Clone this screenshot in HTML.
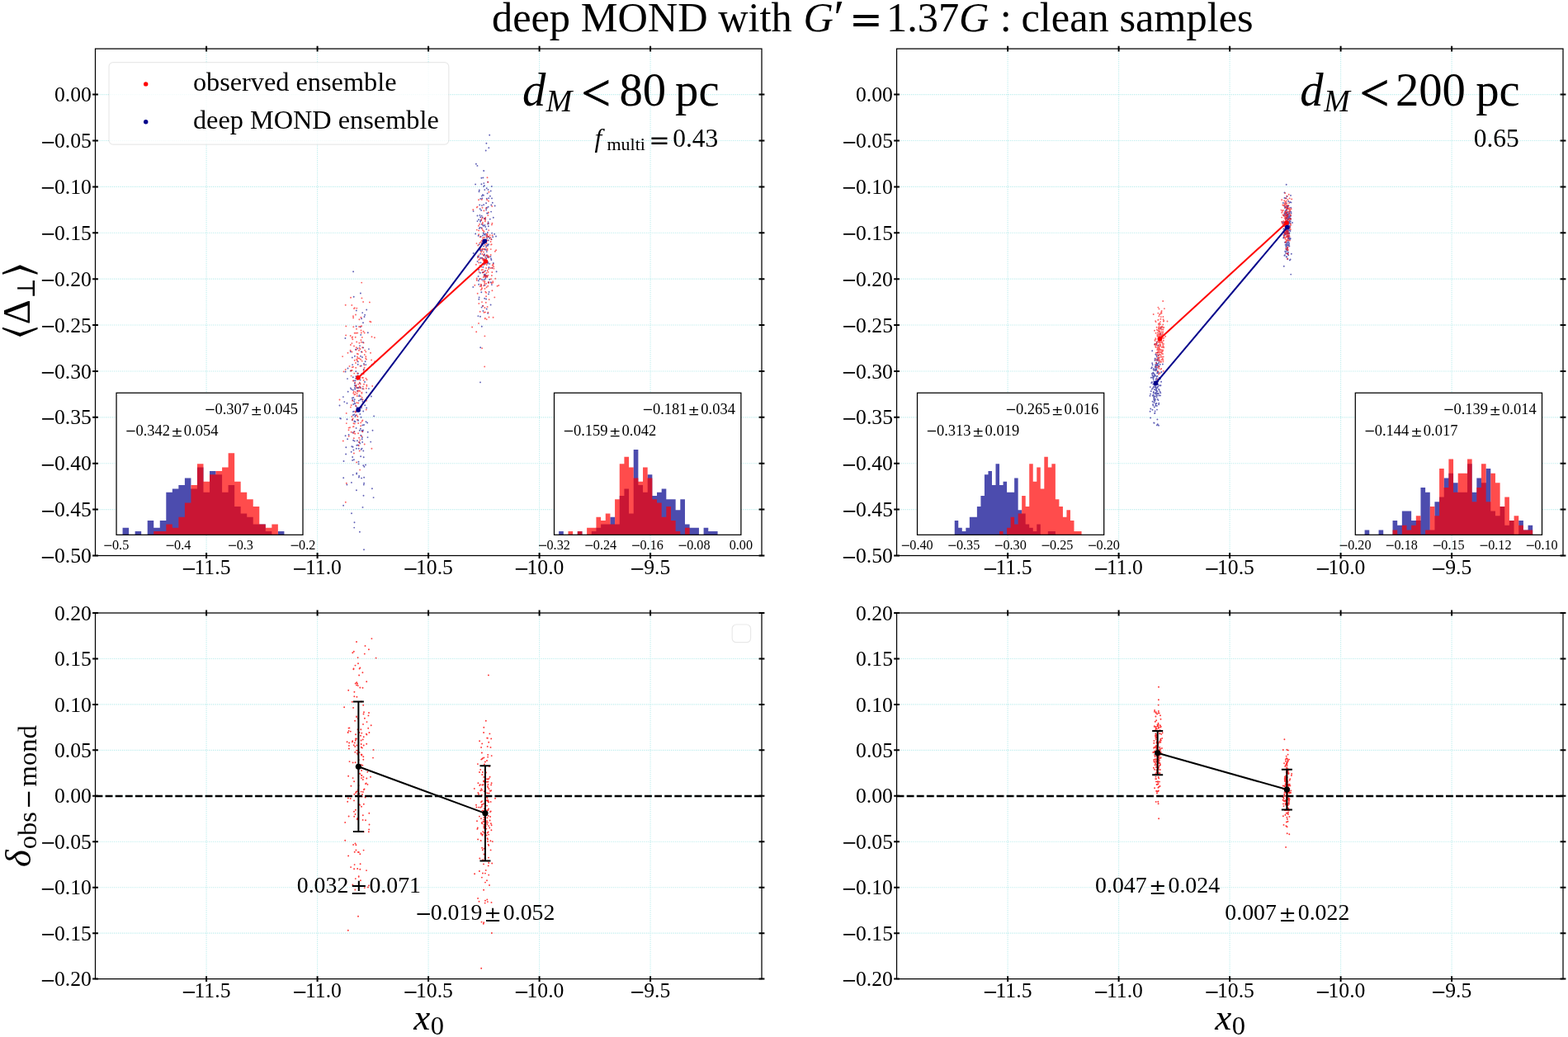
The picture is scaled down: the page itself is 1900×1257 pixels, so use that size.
<!DOCTYPE html>
<html lang="en"><head><meta charset="utf-8"><title>deep MOND clean samples</title>
<style>html,body{margin:0;padding:0;background:#fff}svg{display:block}text{fill:#000;font-family:'Liberation Serif',serif;white-space:pre}.r{font-family:'Liberation Serif',serif}.i{font-family:'Liberation Serif',serif;font-style:italic}.s{font-family:'DejaVu Sans',sans-serif}.m{font-family:'DejaVu Math TeX Gyre','DejaVu Sans',sans-serif}</style></head>
<body>
<svg width="1900" height="1257" viewBox="0 0 1900 1257">
<rect width="1900" height="1257" fill="#fff"/>
<path d="M250.1 59.1V673.5M384.6 59.1V673.5M519.1 59.1V673.5M653.6 59.1V673.5M788.1 59.1V673.5M115.5 114.62H923M115.5 170.51H923M115.5 226.4H923M115.5 282.28H923M115.5 338.17H923M115.5 394.06H923M115.5 449.95H923M115.5 505.84H923M115.5 561.72H923M115.5 617.61H923" stroke="#00bfbf" stroke-opacity="0.26" stroke-width="1.1" stroke-dasharray="1.25 1.25" fill="none"/>
<path d="M1221.1 59.1V673.5M1355.6 59.1V673.5M1490.1 59.1V673.5M1624.6 59.1V673.5M1759.1 59.1V673.5M1086.55 114.62H1894M1086.55 170.51H1894M1086.55 226.4H1894M1086.55 282.28H1894M1086.55 338.17H1894M1086.55 394.06H1894M1086.55 449.95H1894M1086.55 505.84H1894M1086.55 561.72H1894M1086.55 617.61H1894" stroke="#00bfbf" stroke-opacity="0.26" stroke-width="1.1" stroke-dasharray="1.25 1.25" fill="none"/>
<path d="M250.1 743V1186.6M384.6 743V1186.6M519.1 743V1186.6M653.6 743V1186.6M788.1 743V1186.6M115.5 798.45H923M115.5 853.9H923M115.5 909.35H923M115.5 964.8H923M115.5 1020.25H923M115.5 1075.7H923M115.5 1131.15H923" stroke="#00bfbf" stroke-opacity="0.26" stroke-width="1.1" stroke-dasharray="1.25 1.25" fill="none"/>
<path d="M1221.1 743V1186.6M1355.6 743V1186.6M1490.1 743V1186.6M1624.6 743V1186.6M1759.1 743V1186.6M1086.55 798.45H1894M1086.55 853.9H1894M1086.55 909.35H1894M1086.55 964.8H1894M1086.55 1020.25H1894M1086.55 1075.7H1894M1086.55 1131.15H1894" stroke="#00bfbf" stroke-opacity="0.26" stroke-width="1.1" stroke-dasharray="1.25 1.25" fill="none"/>
<path d="M439.9 414.9h.01M434.0 509.2h.01M441.1 578.7h.01M431.6 395.5h.01M450.9 592.2h.01M429.8 467.3h.01M429.5 633.2h.01M431.2 492.1h.01M437.7 544.7h.01M429.1 486.5h.01M440.3 546.5h.01M431.8 376.4h.01M435.9 464.6h.01M429.7 534.6h.01M445.8 403.3h.01M425.2 449.5h.01M425.7 547.8h.01M442.3 485.6h.01M433.8 459.3h.01M439.5 522.7h.01M445.1 512.5h.01M440.3 564.3h.01M428.2 490.0h.01M434.6 562.4h.01M420.4 587.5h.01M430.3 504.9h.01M429.2 502.4h.01M427.6 541.7h.01M427.9 503.2h.01M433.3 422.4h.01M436.2 537.5h.01M412.2 506.9h.01M443.5 511.3h.01M431.6 518.9h.01M432.6 493.6h.01M437.6 483.7h.01M452.6 603.1h.01M452.1 441.6h.01M429.4 510.7h.01M442.1 381.8h.01M436.6 484.6h.01M434.0 509.8h.01M427.4 524.4h.01M431.3 450.2h.01M438.1 453.1h.01M435.9 644.8h.01M453.1 504.4h.01M427.8 457.2h.01M434.5 559.8h.01M434.8 485.6h.01M443.3 442.1h.01M436.0 419.1h.01M438.7 532.3h.01M428.1 329.2h.01M437.7 443.5h.01M431.8 543.8h.01M438.2 484.1h.01M449.9 480.5h.01M440.8 447.8h.01M429.2 639.6h.01M430.1 489.5h.01M433.7 441.8h.01M438.0 494.4h.01M439.4 486.8h.01M426.8 482.5h.01M444.2 494.5h.01M434.9 578.6h.01M427.8 499.1h.01M420.5 488.7h.01M426.3 541.3h.01M419.3 542.3h.01M443.0 563.5h.01M435.1 577.0h.01M437.2 527.7h.01M424.9 470.5h.01M412.9 507.5h.01M432.7 470.0h.01M431.4 456.3h.01M430.9 503.4h.01M433.6 470.3h.01M432.5 494.1h.01M415.9 481.1h.01M435.1 480.3h.01M440.2 498.5h.01M432.1 574.6h.01M416.1 612.7h.01M433.0 473.7h.01M426.9 508.9h.01M436.9 355.5h.01M451.5 521.8h.01M421.7 474.7h.01M418.4 410.0h.01M440.0 521.5h.01M418.6 528.3h.01M441.0 666.2h.01M433.9 496.9h.01M428.7 359.8h.01M420.5 508.3h.01M430.6 461.4h.01M430.9 423.7h.01M436.7 396.4h.01M445.7 523.7h.01M427.1 557.9h.01M440.5 600.7h.01M441.1 585.8h.01M429.5 523.1h.01M428.9 557.2h.01M439.2 535.9h.01M416.5 559.0h.01M436.3 501.9h.01M422.6 526.9h.01M429.9 488.6h.01M434.0 539.5h.01M428.8 461.5h.01M430.0 464.8h.01M431.5 499.1h.01M444.0 475.8h.01M416.2 579.3h.01M446.9 423.1h.01M440.8 587.6h.01M419.1 550.5h.01M438.1 386.2h.01M430.2 471.7h.01M426.0 622.2h.01M434.5 470.3h.01M438.0 492.6h.01M437.1 553.3h.01M421.0 459.1h.01M427.7 575.6h.01M428.4 545.5h.01M437.2 405.9h.01M440.0 391.2h.01M431.9 594.2h.01M440.7 554.2h.01M435.0 494.0h.01M437.5 505.7h.01M427.8 472.7h.01M446.9 471.1h.01M442.0 463.0h.01M437.9 426.4h.01M421.5 446.5h.01M438.1 579.6h.01M440.1 421.4h.01M438.6 543.6h.01M425.9 584.9h.01M428.8 498.7h.01M450.8 442.0h.01M424.8 426.3h.01M425.8 471.9h.01M436.5 460.6h.01M445.5 530.1h.01M433.3 456.9h.01M436.7 469.4h.01M439.2 379.1h.01M418.6 450.5h.01M428.1 533.7h.01M429.5 510.5h.01M431.3 467.6h.01M427.2 554.0h.01M432.3 539.7h.01M449.2 535.6h.01M435.8 521.8h.01M444.2 375.5h.01M434.7 543.7h.01M435.5 479.1h.01M433.9 452.7h.01M442.6 438.2h.01M430.5 511.3h.01M432.9 534.3h.01M421.1 532.3h.01M439.4 471.2h.01M426.8 433.4h.01M439.0 530.1h.01M438.4 522.0h.01M435.3 498.3h.01M433.6 455.5h.01M428.3 481.9h.01M430.0 469.9h.01M429.9 431.8h.01M439.3 515.4h.01M437.0 431.8h.01M432.2 573.4h.01M441.0 441.0h.01M442.2 491.3h.01M411.5 491.5h.01M427.3 484.8h.01M444.6 448.5h.01M439.0 433.0h.01M431.1 458.7h.01M439.5 614.9h.01M441.5 384.0h.01M441.0 515.0h.01M427.1 442.1h.01M429.7 484.3h.01M438.9 484.4h.01M435.5 536.0h.01M436.9 519.8h.01M417.3 487.1h.01M441.4 565.8h.01M433.8 438.4h.01" stroke="#00008b" stroke-opacity="0.62" stroke-width="1.9" stroke-linecap="round" fill="none"/>
<path d="M428.4 525.0h.01M430.7 408.8h.01M428.2 476.5h.01M444.5 460.3h.01M428.0 517.3h.01M437.4 412.2h.01M429.0 523.5h.01M427.1 485.8h.01M432.2 503.3h.01M440.7 460.9h.01M426.8 445.1h.01M418.7 447.9h.01M437.0 480.3h.01M424.9 418.0h.01M434.8 540.3h.01M444.7 481.6h.01M438.7 426.7h.01M438.2 342.6h.01M415.1 432.1h.01M432.1 560.4h.01M438.2 528.7h.01M434.2 513.0h.01M435.0 536.0h.01M427.6 507.5h.01M443.8 470.7h.01M426.8 509.1h.01M431.2 445.8h.01M425.0 449.5h.01M437.2 512.4h.01M438.1 395.2h.01M431.8 423.8h.01M429.7 436.8h.01M432.8 480.0h.01M454.0 438.1h.01M415.8 534.5h.01M431.5 466.9h.01M439.9 468.6h.01M435.5 434.5h.01M431.3 492.0h.01M435.0 424.7h.01M430.2 525.7h.01M426.3 504.9h.01M430.1 463.8h.01M444.3 466.7h.01M440.6 448.7h.01M430.3 477.9h.01M434.2 465.8h.01M435.1 530.8h.01M440.0 457.9h.01M426.2 449.0h.01M443.2 434.5h.01M429.0 374.0h.01M438.7 481.9h.01M437.1 395.6h.01M425.0 360.7h.01M438.4 475.7h.01M443.3 426.4h.01M451.2 468.0h.01M438.7 437.6h.01M431.5 403.7h.01M432.8 428.7h.01M444.0 435.6h.01M449.0 427.7h.01M437.8 403.5h.01M435.0 469.7h.01M439.4 509.4h.01M438.7 510.5h.01M433.6 459.7h.01M428.8 531.2h.01M429.0 419.5h.01M425.7 491.3h.01M440.6 471.4h.01M435.7 468.4h.01M440.1 365.9h.01M421.5 427.8h.01M432.6 477.3h.01M434.1 495.5h.01M436.5 443.7h.01M428.3 396.2h.01M443.3 432.2h.01M428.0 383.3h.01M418.7 369.8h.01M424.9 493.6h.01M430.9 475.4h.01M438.4 476.7h.01M416.5 450.4h.01M433.2 452.5h.01M441.8 429.9h.01M441.7 538.5h.01M432.6 436.1h.01M443.4 458.6h.01M433.2 403.6h.01M436.9 470.5h.01M432.3 488.3h.01M433.9 474.0h.01M450.4 543.7h.01M439.2 421.3h.01M441.0 465.8h.01M432.3 373.6h.01M426.4 426.5h.01M431.2 468.3h.01M436.5 423.1h.01M428.5 513.2h.01M441.4 442.4h.01M418.8 608.7h.01M449.3 476.2h.01M433.0 459.0h.01M450.1 436.4h.01M449.4 390.2h.01M448.2 389.7h.01M433.9 429.2h.01M438.8 408.9h.01M425.6 523.7h.01M435.7 546.5h.01M433.8 434.3h.01M419.1 406.4h.01M427.3 411.3h.01M444.4 468.1h.01M424.6 424.7h.01M441.6 445.8h.01M434.1 525.3h.01M432.7 437.2h.01M422.5 521.2h.01M437.4 384.7h.01M439.2 523.3h.01M453.9 409.2h.01M432.3 497.8h.01M429.4 478.4h.01M438.9 457.8h.01M435.0 473.4h.01M429.7 373.3h.01M440.7 453.2h.01M435.7 463.7h.01M436.1 474.2h.01M443.8 496.6h.01M427.8 461.6h.01M441.6 403.5h.01M428.7 474.7h.01M437.5 400.5h.01M433.6 455.7h.01M432.9 432.5h.01M411.5 484.5h.01M432.2 470.1h.01M425.6 455.6h.01M432.9 508.7h.01M432.1 435.5h.01M437.9 414.7h.01M419.8 585.8h.01M432.2 414.5h.01M440.4 401.8h.01M426.5 409.2h.01M435.4 415.8h.01M447.9 366.4h.01M435.4 387.3h.01M438.3 492.5h.01M431.0 439.9h.01M422.6 518.6h.01M428.0 444.7h.01M438.4 361.4h.01M450.5 408.3h.01M424.0 518.2h.01M426.6 449.0h.01M432.0 398.8h.01M423.5 443.9h.01M433.3 505.0h.01M437.1 435.7h.01M435.1 395.9h.01M430.6 498.6h.01M419.3 395.4h.01M440.0 488.1h.01M428.1 385.3h.01M434.2 488.5h.01M429.7 403.8h.01M426.3 369.9h.01M428.9 549.5h.01M429.2 452.6h.01M419.8 513.1h.01M422.7 528.7h.01M435.5 421.7h.01M439.6 484.4h.01M432.6 459.7h.01M424.7 407.0h.01M431.8 421.3h.01M441.0 450.5h.01M428.6 517.1h.01M442.1 424.6h.01M430.7 499.8h.01M433.6 474.8h.01M426.4 416.1h.01M436.7 465.5h.01M444.0 485.8h.01M429.8 513.6h.01M436.1 569.6h.01M427.2 408.4h.01M436.2 533.4h.01M437.1 516.3h.01M440.6 415.6h.01M431.0 381.5h.01M419.7 500.9h.01M434.9 496.5h.01" stroke="#ff0000" stroke-opacity="0.62" stroke-width="1.9" stroke-linecap="round" fill="none"/>
<path d="M586.6 338.9h.01M582.4 303.7h.01M591.9 271.0h.01M585.4 376.9h.01M588.4 336.1h.01M587.5 284.7h.01M590.1 288.7h.01M591.1 271.5h.01M583.7 294.9h.01M589.4 173.8h.01M592.6 353.9h.01M591.9 291.4h.01M591.7 287.0h.01M576.1 223.4h.01M583.8 237.6h.01M586.6 309.7h.01M585.9 236.8h.01M583.6 276.2h.01M587.5 272.9h.01M601.6 329.2h.01M584.8 263.4h.01M585.6 330.1h.01M592.2 240.3h.01M578.5 268.1h.01M582.1 268.7h.01M580.8 276.7h.01M587.6 320.0h.01M582.0 383.8h.01M585.2 273.3h.01M579.9 340.3h.01M588.3 328.1h.01M595.6 290.1h.01M586.4 314.0h.01M584.4 294.0h.01M586.9 224.9h.01M586.1 207.0h.01M592.3 179.3h.01M596.1 282.6h.01M581.2 248.4h.01M588.9 310.1h.01M599.2 283.8h.01M591.0 297.7h.01M580.2 344.8h.01M594.6 369.5h.01M583.3 354.2h.01M583.4 223.3h.01M585.3 323.7h.01M582.2 421.3h.01M587.9 332.8h.01M588.7 316.7h.01M590.6 234.4h.01M589.1 290.9h.01M588.7 182.5h.01M588.9 290.7h.01M592.0 356.4h.01M589.2 254.4h.01M580.0 266.2h.01M580.1 327.0h.01M583.1 312.6h.01M586.1 226.1h.01M588.3 337.9h.01M573.7 307.0h.01M586.7 295.4h.01M589.8 252.3h.01M591.7 342.2h.01M585.4 215.4h.01M584.9 292.1h.01M589.7 228.3h.01M593.2 163.8h.01M591.8 274.3h.01M587.2 317.6h.01M589.1 246.3h.01M589.7 374.5h.01M583.8 395.8h.01M580.0 311.4h.01M581.1 338.3h.01M589.4 277.8h.01M591.1 220.6h.01M579.6 334.9h.01M593.2 288.7h.01M589.0 302.9h.01M586.5 292.0h.01M584.3 240.5h.01M586.9 317.5h.01M582.0 463.4h.01M595.4 315.0h.01M578.6 316.9h.01M587.0 308.2h.01M582.3 240.9h.01M591.2 379.8h.01M576.2 283.4h.01M582.5 318.4h.01M583.7 261.6h.01M594.7 231.5h.01M591.4 318.3h.01M590.6 310.4h.01M582.2 263.2h.01M595.1 256.6h.01M583.6 372.6h.01M588.5 283.5h.01M590.3 334.8h.01M586.1 298.4h.01M585.0 319.8h.01M587.5 345.7h.01M573.6 256.1h.01M593.3 319.8h.01M584.8 370.9h.01M583.9 249.1h.01M597.8 263.7h.01M589.8 251.6h.01M590.9 281.7h.01M592.3 324.2h.01M595.3 248.5h.01M580.6 360.4h.01M601.0 286.5h.01M590.1 258.5h.01M580.3 362.7h.01M588.3 275.0h.01M595.9 345.1h.01M583.1 345.6h.01M587.9 291.4h.01M583.7 271.8h.01M573.3 347.9h.01M583.4 215.7h.01M582.1 307.7h.01M582.7 286.7h.01M593.8 265.6h.01M586.3 207.1h.01M592.5 324.3h.01M591.3 312.0h.01M583.5 296.4h.01M584.1 338.9h.01M582.4 312.5h.01M593.9 237.8h.01M578.4 200.9h.01M579.7 285.8h.01M589.2 298.3h.01M584.8 236.2h.01M596.4 324.7h.01M581.7 275.7h.01M586.9 332.6h.01M587.6 302.0h.01M580.5 232.2h.01M586.6 283.8h.01M588.2 265.0h.01M586.2 309.6h.01M584.4 303.0h.01M597.8 319.0h.01M586.3 222.1h.01M583.1 254.9h.01M588.5 334.0h.01M592.0 296.3h.01M581.7 253.3h.01M580.8 230.4h.01M591.6 250.7h.01M586.5 315.7h.01M595.8 225.9h.01M596.8 245.8h.01M585.0 285.4h.01M584.7 330.1h.01M586.9 265.1h.01M588.0 332.7h.01M591.5 229.9h.01M587.3 318.0h.01M591.2 319.4h.01M589.1 362.5h.01M576.9 198.8h.01M580.6 296.4h.01M596.0 240.4h.01M589.5 285.9h.01M581.9 330.7h.01M599.7 249.5h.01M595.0 313.4h.01M579.4 383.1h.01M586.7 333.9h.01M589.2 313.0h.01M585.6 282.5h.01M582.2 267.1h.01M591.5 317.9h.01M586.1 248.3h.01M586.1 273.7h.01M597.2 287.2h.01M587.2 361.8h.01M581.4 260.9h.01M586.9 295.2h.01M591.0 258.5h.01M594.8 342.3h.01M589.8 305.1h.01M578.5 261.5h.01M581.4 302.9h.01M584.3 312.7h.01M583.1 266.6h.01M590.6 296.9h.01M582.5 312.7h.01M593.2 338.8h.01M594.4 310.9h.01M587.3 230.1h.01M579.0 310.7h.01M591.6 269.1h.01M589.8 240.7h.01" stroke="#00008b" stroke-opacity="0.62" stroke-width="1.9" stroke-linecap="round" fill="none"/>
<path d="M586.8 333.6h.01M586.1 346.2h.01M586.8 264.9h.01M584.5 251.8h.01M586.0 305.5h.01M592.7 363.1h.01M585.5 314.3h.01M595.9 272.4h.01M581.5 313.7h.01M596.4 270.7h.01M592.4 232.8h.01M589.7 321.0h.01M585.5 340.6h.01M581.9 322.7h.01M595.0 338.2h.01M587.1 342.1h.01M582.3 301.4h.01M590.6 301.8h.01M581.7 347.1h.01M590.4 285.2h.01M589.7 283.9h.01M599.3 360.4h.01M573.3 254.3h.01M591.9 257.4h.01M586.4 302.3h.01M589.1 354.7h.01M589.4 331.0h.01M589.2 334.0h.01M587.9 268.3h.01M589.7 387.1h.01M584.9 269.7h.01M581.9 300.8h.01M581.3 294.6h.01M590.8 309.5h.01M592.6 286.9h.01M590.2 242.2h.01M582.9 351.3h.01M596.2 250.1h.01M584.5 313.1h.01M583.7 291.7h.01M585.3 288.0h.01M590.6 334.4h.01M576.9 320.8h.01M581.6 299.9h.01M598.2 323.3h.01M583.7 304.5h.01M581.8 287.2h.01M582.3 337.9h.01M578.8 312.3h.01M588.8 252.4h.01M586.4 255.4h.01M591.1 311.4h.01M572.1 396.5h.01M592.4 341.9h.01M584.8 271.4h.01M597.7 320.3h.01M577.8 337.7h.01M589.8 309.3h.01M583.2 347.0h.01M582.5 293.4h.01M587.2 343.9h.01M587.9 296.7h.01M577.5 295.1h.01M584.8 330.6h.01M602.6 346.8h.01M585.4 370.8h.01M595.9 334.0h.01M580.2 314.9h.01M588.3 353.8h.01M600.3 337.8h.01M591.4 378.6h.01M583.0 305.5h.01M580.0 242.2h.01M590.5 215.2h.01M586.3 321.0h.01M586.7 314.4h.01M579.2 297.5h.01M595.1 296.6h.01M580.3 367.9h.01M587.5 349.9h.01M588.2 263.8h.01M594.5 287.9h.01M584.0 349.3h.01M578.5 250.6h.01M589.1 325.0h.01M586.4 329.7h.01M580.3 309.5h.01M584.6 314.1h.01M589.1 359.3h.01M592.0 243.7h.01M593.7 285.1h.01M594.8 302.1h.01M592.7 311.7h.01M584.1 264.5h.01M588.5 314.5h.01M586.8 315.6h.01M583.3 323.5h.01M577.8 251.4h.01M586.5 378.7h.01M592.2 279.1h.01M583.7 241.9h.01M592.3 310.6h.01M585.8 302.0h.01M589.7 287.3h.01M587.9 385.6h.01M594.7 308.9h.01M586.2 309.3h.01M604.3 345.9h.01M590.6 283.7h.01M581.7 377.7h.01M587.1 328.8h.01M581.1 271.8h.01M587.4 407.4h.01M585.0 326.9h.01M597.3 321.5h.01M595.2 290.3h.01M591.5 333.6h.01M586.3 280.2h.01M589.8 295.0h.01M587.4 340.9h.01M601.1 303.3h.01M591.5 329.9h.01M590.5 303.3h.01M584.1 422.1h.01M584.0 277.1h.01M582.8 344.7h.01M588.8 366.8h.01M595.6 296.3h.01M579.9 273.8h.01M582.8 302.3h.01M584.2 295.7h.01M596.6 285.3h.01M594.6 293.0h.01M591.3 261.1h.01M587.0 335.3h.01M582.9 346.2h.01M596.4 324.7h.01M583.5 327.3h.01M589.6 348.2h.01M591.2 346.8h.01M587.0 302.6h.01M597.2 341.1h.01M591.5 270.6h.01M577.8 278.6h.01M592.5 384.5h.01M580.0 391.9h.01M580.5 329.6h.01M589.2 334.8h.01M595.7 343.2h.01M590.7 328.0h.01M587.7 386.2h.01M588.0 334.4h.01M588.1 311.9h.01M587.4 373.0h.01M577.2 402.3h.01M594.4 325.0h.01M575.3 345.8h.01M586.4 280.9h.01M596.3 330.0h.01M592.1 326.0h.01M584.4 308.0h.01M597.3 342.5h.01M596.4 352.2h.01M583.8 350.2h.01M588.0 378.4h.01M588.2 335.4h.01M587.1 287.7h.01M588.1 266.4h.01M589.2 343.8h.01M596.7 321.5h.01M589.1 314.1h.01M598.4 325.6h.01M585.8 335.9h.01M587.2 444.4h.01M599.9 304.7h.01M577.8 337.4h.01M584.9 301.5h.01M585.3 315.3h.01M590.6 335.0h.01M591.3 220.7h.01M581.6 322.0h.01M590.1 316.7h.01M580.3 318.5h.01M578.7 355.7h.01M590.6 291.3h.01M597.6 384.7h.01M592.1 343.0h.01M584.9 279.0h.01M585.1 290.0h.01M589.1 299.9h.01M577.8 339.8h.01M586.6 309.2h.01M584.0 366.1h.01M589.5 295.1h.01M591.0 286.3h.01M580.1 279.4h.01M590.6 371.9h.01M583.3 266.7h.01M580.1 284.3h.01M590.1 336.1h.01" stroke="#ff0000" stroke-opacity="0.62" stroke-width="1.9" stroke-linecap="round" fill="none"/>
<path d="M434.1 457.77L588.5 316.93" stroke="#ff0000" stroke-width="2" fill="none"/>
<circle cx="434.1" cy="457.77" r="2.8" fill="#ff0000"/>
<circle cx="588.5" cy="316.93" r="2.8" fill="#ff0000"/>
<path d="M434.1 496.89L587.43 292.34" stroke="#00008b" stroke-width="2" fill="none"/>
<circle cx="434.1" cy="496.89" r="2.8" fill="#00008b"/>
<circle cx="587.43" cy="292.34" r="2.8" fill="#00008b"/>
<path d="M1401.6 456.8h.01M1402.7 451.5h.01M1400.4 491.0h.01M1404.5 444.5h.01M1401.7 414.6h.01M1398.7 485.5h.01M1399.1 501.0h.01M1395.9 452.9h.01M1402.0 496.6h.01M1400.9 447.6h.01M1401.0 476.9h.01M1403.1 477.1h.01M1398.6 481.8h.01M1406.5 467.2h.01M1402.1 477.5h.01M1403.3 468.4h.01M1398.8 456.0h.01M1400.5 476.1h.01M1393.8 469.1h.01M1398.6 466.8h.01M1393.5 479.8h.01M1402.8 514.2h.01M1398.4 487.8h.01M1400.8 472.9h.01M1400.2 489.1h.01M1401.3 473.4h.01M1398.1 462.1h.01M1403.7 440.6h.01M1401.9 491.9h.01M1405.7 441.8h.01M1397.9 475.0h.01M1404.4 433.9h.01M1404.7 472.8h.01M1399.3 467.1h.01M1405.1 467.2h.01M1394.1 477.6h.01M1401.1 472.3h.01M1398.1 482.1h.01M1396.6 442.3h.01M1398.6 512.8h.01M1405.6 458.8h.01M1402.4 461.4h.01M1402.0 445.7h.01M1398.1 452.4h.01M1399.9 434.6h.01M1399.0 462.6h.01M1398.9 464.6h.01M1399.8 480.4h.01M1399.5 434.8h.01M1401.4 447.7h.01M1395.1 446.4h.01M1401.8 432.2h.01M1394.3 495.5h.01M1404.3 439.0h.01M1403.1 443.0h.01M1396.2 425.3h.01M1402.9 469.0h.01M1403.6 462.4h.01M1400.2 455.4h.01M1399.9 445.7h.01M1404.6 457.9h.01M1402.2 474.4h.01M1394.8 457.8h.01M1404.3 488.7h.01M1396.5 496.8h.01M1407.4 451.0h.01M1399.3 485.6h.01M1403.0 476.7h.01M1400.9 475.6h.01M1401.4 489.0h.01M1398.8 493.5h.01M1398.3 483.9h.01M1400.3 429.4h.01M1403.9 430.8h.01M1404.3 479.4h.01M1394.1 506.5h.01M1399.6 498.4h.01M1400.9 461.4h.01M1402.4 508.4h.01M1396.7 479.5h.01M1401.9 441.2h.01M1400.7 464.0h.01M1402.6 450.9h.01M1402.5 455.9h.01M1397.3 491.6h.01M1407.1 462.7h.01M1399.6 466.5h.01M1402.0 479.6h.01M1402.0 436.9h.01M1398.5 464.4h.01M1400.3 449.2h.01M1402.3 470.0h.01M1401.5 479.2h.01M1408.9 441.5h.01M1401.8 462.8h.01M1400.6 470.3h.01M1403.4 450.7h.01M1395.2 464.3h.01M1402.4 427.6h.01M1394.8 474.2h.01M1399.7 444.6h.01M1398.8 472.1h.01M1397.4 465.8h.01M1400.5 443.7h.01M1402.6 442.0h.01M1397.8 465.9h.01M1399.4 469.2h.01M1399.6 485.9h.01M1395.6 463.7h.01M1406.8 397.6h.01M1398.3 484.3h.01M1399.4 500.8h.01M1398.3 448.7h.01M1397.4 457.7h.01M1401.6 441.3h.01M1401.4 470.8h.01M1399.5 463.7h.01M1397.0 470.4h.01M1401.8 515.4h.01M1400.3 477.5h.01M1406.0 479.4h.01M1395.9 471.7h.01M1401.6 481.4h.01M1398.2 512.4h.01M1402.1 465.7h.01M1400.2 469.3h.01M1396.7 479.5h.01M1400.7 459.5h.01M1401.2 448.6h.01M1404.1 490.2h.01M1399.8 447.9h.01M1398.4 481.1h.01M1401.7 416.7h.01M1396.6 457.4h.01M1398.8 483.6h.01M1399.8 466.5h.01M1401.2 447.8h.01M1399.2 417.2h.01M1396.0 463.5h.01M1401.9 443.4h.01M1397.7 478.6h.01M1393.6 498.7h.01M1401.1 430.4h.01M1398.8 455.5h.01M1399.1 453.9h.01M1403.3 466.3h.01M1398.4 465.8h.01M1403.5 436.4h.01M1402.2 452.3h.01M1399.5 476.6h.01M1397.7 476.3h.01M1406.4 404.7h.01M1399.8 466.7h.01M1403.1 418.9h.01M1396.2 440.2h.01M1400.2 444.0h.01M1400.3 491.8h.01M1397.3 451.8h.01M1401.1 439.4h.01M1397.7 447.0h.01M1405.8 459.4h.01M1399.9 472.5h.01M1397.8 468.9h.01M1397.9 457.2h.01M1396.4 455.0h.01M1397.4 452.8h.01M1397.6 459.8h.01M1399.8 464.0h.01M1404.0 515.7h.01M1400.0 483.9h.01M1402.5 474.4h.01M1399.3 455.1h.01M1397.3 458.2h.01M1400.0 442.1h.01M1403.9 477.2h.01M1401.4 473.1h.01M1399.4 436.8h.01M1402.0 440.9h.01M1402.2 435.5h.01M1402.7 483.9h.01M1397.7 456.3h.01M1404.4 459.1h.01M1397.7 447.9h.01M1402.5 442.5h.01M1404.1 471.7h.01M1401.0 442.7h.01M1405.6 474.7h.01M1403.5 485.1h.01M1397.1 490.2h.01M1395.8 445.2h.01M1396.6 486.7h.01M1397.1 451.9h.01M1401.6 474.3h.01M1400.5 468.2h.01M1402.4 461.5h.01M1398.2 480.2h.01M1403.8 451.9h.01M1406.3 476.3h.01M1401.8 459.1h.01M1395.8 463.2h.01" stroke="#00008b" stroke-opacity="0.62" stroke-width="1.9" stroke-linecap="round" fill="none"/>
<path d="M1406.3 418.4h.01M1407.7 428.4h.01M1409.2 418.9h.01M1404.2 405.0h.01M1403.6 387.6h.01M1405.2 415.4h.01M1405.7 406.5h.01M1409.8 389.5h.01M1403.6 426.1h.01M1406.0 419.3h.01M1405.5 404.5h.01M1408.7 426.0h.01M1404.4 446.8h.01M1407.3 396.2h.01M1404.9 402.5h.01M1405.6 426.6h.01M1407.7 407.3h.01M1400.1 389.1h.01M1405.0 405.1h.01M1403.1 413.4h.01M1402.6 422.0h.01M1405.7 415.5h.01M1406.0 404.6h.01M1409.2 365.0h.01M1409.4 436.2h.01M1402.8 403.5h.01M1404.2 418.5h.01M1406.3 432.8h.01M1405.5 417.6h.01M1409.9 420.1h.01M1402.4 429.6h.01M1407.2 399.8h.01M1402.2 424.0h.01M1408.2 415.4h.01M1408.7 420.9h.01M1406.0 404.2h.01M1405.7 419.8h.01M1399.3 412.1h.01M1403.8 392.8h.01M1403.9 407.7h.01M1397.7 381.0h.01M1403.8 409.9h.01M1405.2 401.8h.01M1407.5 424.5h.01M1401.3 416.8h.01M1407.1 438.4h.01M1405.1 422.5h.01M1408.8 434.5h.01M1410.3 389.0h.01M1410.0 416.9h.01M1405.6 452.2h.01M1403.7 434.8h.01M1409.1 410.0h.01M1405.3 402.2h.01M1404.7 401.3h.01M1404.6 393.5h.01M1405.5 405.9h.01M1407.2 406.4h.01M1408.7 405.8h.01M1403.4 436.8h.01M1407.4 414.9h.01M1400.1 420.1h.01M1404.6 407.5h.01M1409.0 399.5h.01M1404.0 426.4h.01M1404.2 399.9h.01M1402.9 426.7h.01M1403.9 397.4h.01M1403.3 379.6h.01M1399.1 417.8h.01M1404.6 393.9h.01M1402.4 427.3h.01M1400.1 418.0h.01M1406.0 426.4h.01M1403.2 387.9h.01M1410.2 421.2h.01M1399.6 412.9h.01M1406.4 386.8h.01M1410.3 397.0h.01M1408.4 409.3h.01M1400.6 390.1h.01M1405.6 426.7h.01M1405.5 437.9h.01M1407.0 427.5h.01M1405.2 405.4h.01M1407.5 379.8h.01M1409.8 412.8h.01M1404.6 405.5h.01M1407.4 413.5h.01M1400.7 421.0h.01M1403.7 423.2h.01M1403.6 418.5h.01M1409.4 438.4h.01M1409.7 449.8h.01M1401.2 440.2h.01M1406.0 407.4h.01M1403.4 445.1h.01M1407.6 376.9h.01M1404.5 374.4h.01M1406.8 384.1h.01M1406.0 392.9h.01M1408.4 395.8h.01M1399.9 416.7h.01M1408.9 416.9h.01M1404.7 391.8h.01M1401.8 399.6h.01M1407.4 399.5h.01M1404.5 398.3h.01M1410.4 409.6h.01M1402.6 400.4h.01M1404.6 424.5h.01M1407.8 424.2h.01M1403.3 431.0h.01M1404.4 383.2h.01M1410.8 405.7h.01M1405.8 402.4h.01M1404.7 422.5h.01M1403.5 414.8h.01M1403.4 422.4h.01M1404.5 399.8h.01M1404.4 420.9h.01M1405.2 381.3h.01M1403.8 398.1h.01M1407.6 436.0h.01M1401.6 396.8h.01M1399.0 400.8h.01M1406.1 417.7h.01M1405.4 409.0h.01M1402.3 406.0h.01M1400.7 436.3h.01M1407.8 402.5h.01M1407.3 411.9h.01M1403.6 407.4h.01M1405.4 397.7h.01M1406.1 424.0h.01M1400.8 444.7h.01M1406.4 397.2h.01M1408.6 414.9h.01M1407.1 378.8h.01M1407.6 409.7h.01M1407.8 432.5h.01M1405.5 429.8h.01M1404.0 411.6h.01M1406.8 396.5h.01M1407.1 395.9h.01M1402.7 459.8h.01M1404.0 453.5h.01M1403.0 424.2h.01M1409.2 393.4h.01M1403.4 372.6h.01M1403.1 420.9h.01M1402.6 449.8h.01M1406.5 447.6h.01M1409.0 429.0h.01M1402.5 433.9h.01M1404.5 443.8h.01M1409.0 396.8h.01M1403.6 410.8h.01M1400.9 427.8h.01M1404.8 429.4h.01M1404.0 401.8h.01M1407.7 426.8h.01M1406.6 430.4h.01M1409.3 424.5h.01M1405.7 380.6h.01M1401.2 418.5h.01M1405.2 414.0h.01M1409.4 384.0h.01M1400.2 410.1h.01M1405.9 398.3h.01M1409.7 432.4h.01M1402.6 406.0h.01M1407.7 420.8h.01M1400.5 411.1h.01M1407.3 378.3h.01M1406.6 404.6h.01M1406.1 390.1h.01M1406.5 439.0h.01M1406.2 404.5h.01M1409.6 387.3h.01M1404.4 396.0h.01M1409.4 402.4h.01M1400.6 403.8h.01M1412.2 407.7h.01M1408.9 404.5h.01M1409.5 399.5h.01M1407.0 379.3h.01M1404.1 433.2h.01M1404.0 427.5h.01M1410.9 374.1h.01M1407.2 446.9h.01M1406.9 427.3h.01M1402.5 407.7h.01M1406.2 407.9h.01M1405.1 436.5h.01M1405.3 406.3h.01M1404.5 397.0h.01M1401.6 415.0h.01M1414.5 389.5h.01M1407.5 396.8h.01" stroke="#ff0000" stroke-opacity="0.62" stroke-width="1.9" stroke-linecap="round" fill="none"/>
<path d="M1563.3 274.9h.01M1555.2 280.5h.01M1566.0 269.9h.01M1556.4 249.6h.01M1561.2 282.9h.01M1559.7 280.6h.01M1561.7 285.6h.01M1560.3 297.0h.01M1562.7 289.8h.01M1557.1 270.3h.01M1559.6 238.0h.01M1560.2 283.5h.01M1555.8 261.6h.01M1555.6 274.0h.01M1557.9 255.1h.01M1561.8 277.3h.01M1560.2 262.3h.01M1564.5 245.4h.01M1564.8 307.7h.01M1558.3 279.0h.01M1560.3 266.2h.01M1558.1 261.0h.01M1560.6 249.7h.01M1559.2 254.5h.01M1556.4 309.8h.01M1558.0 274.0h.01M1561.4 272.2h.01M1558.8 260.9h.01M1557.2 256.1h.01M1564.0 236.9h.01M1564.6 258.5h.01M1559.3 260.9h.01M1562.6 270.0h.01M1562.4 264.1h.01M1560.8 276.2h.01M1555.6 261.1h.01M1559.6 286.2h.01M1561.7 287.2h.01M1559.5 281.2h.01M1564.0 261.4h.01M1559.8 280.3h.01M1559.9 307.2h.01M1558.0 304.7h.01M1559.6 259.6h.01M1560.3 282.7h.01M1559.9 261.6h.01M1561.7 276.3h.01M1563.8 268.2h.01M1563.0 290.4h.01M1563.4 270.5h.01M1559.9 294.9h.01M1555.2 288.5h.01M1557.1 282.0h.01M1558.0 265.5h.01M1560.1 279.8h.01M1556.4 285.6h.01M1561.2 265.8h.01M1559.3 311.5h.01M1561.5 264.3h.01M1563.6 314.5h.01M1557.2 304.7h.01M1560.9 271.0h.01M1556.3 279.4h.01M1559.0 296.3h.01M1560.5 277.5h.01M1559.7 253.1h.01M1556.7 258.8h.01M1560.4 251.8h.01M1560.0 269.0h.01M1558.3 299.6h.01M1560.2 297.2h.01M1561.5 287.6h.01M1564.2 256.8h.01M1559.5 302.8h.01M1560.5 263.2h.01M1554.9 246.0h.01M1559.7 261.5h.01M1559.9 273.5h.01M1562.5 282.1h.01M1559.8 304.0h.01M1562.0 268.6h.01M1556.9 252.1h.01M1562.1 295.4h.01M1564.2 332.6h.01M1559.8 264.2h.01M1558.6 273.6h.01M1562.9 279.3h.01M1560.0 276.6h.01M1563.6 262.6h.01M1563.1 245.0h.01M1559.2 258.1h.01M1561.7 271.1h.01M1558.1 246.1h.01M1553.7 269.0h.01M1558.0 293.6h.01M1557.9 283.6h.01M1556.8 278.5h.01M1554.7 270.6h.01M1560.0 293.9h.01M1561.8 263.8h.01M1562.8 315.4h.01M1559.7 276.9h.01M1557.0 293.8h.01M1562.0 259.7h.01M1559.6 267.6h.01M1558.4 263.8h.01M1560.2 257.2h.01M1560.8 289.3h.01M1558.0 306.9h.01M1559.9 300.4h.01M1557.4 251.0h.01M1558.7 223.8h.01M1556.7 283.7h.01M1561.1 297.3h.01M1562.2 263.1h.01M1560.6 280.7h.01M1562.3 282.7h.01M1556.5 240.0h.01M1562.7 267.9h.01M1558.8 280.5h.01M1561.5 297.8h.01M1560.0 300.8h.01M1560.7 275.2h.01M1561.2 244.0h.01M1561.6 287.0h.01M1562.9 288.6h.01M1556.6 284.7h.01M1559.5 258.2h.01M1556.5 233.5h.01M1558.8 297.9h.01M1560.3 249.7h.01M1560.9 259.9h.01M1564.1 265.5h.01M1560.4 308.1h.01M1560.1 282.6h.01M1559.2 282.4h.01M1557.6 296.7h.01M1557.7 284.4h.01M1561.9 296.1h.01M1561.8 275.3h.01M1561.6 282.4h.01M1562.2 283.4h.01M1560.3 273.2h.01M1560.6 291.9h.01M1555.3 280.5h.01M1561.2 309.2h.01M1561.2 269.2h.01M1559.2 259.8h.01M1561.1 281.9h.01M1561.7 293.7h.01M1561.1 286.5h.01M1558.9 270.5h.01M1556.0 277.2h.01M1558.6 311.3h.01M1558.4 258.0h.01M1560.4 313.9h.01M1556.9 309.3h.01M1555.2 277.6h.01M1558.3 277.9h.01M1557.3 258.8h.01M1561.9 258.8h.01M1556.4 272.6h.01M1561.0 262.8h.01M1557.1 259.8h.01M1561.2 271.3h.01M1562.4 257.0h.01M1561.1 305.9h.01M1559.6 264.4h.01M1558.5 298.8h.01M1559.2 250.8h.01M1560.9 268.4h.01M1561.5 249.1h.01M1559.8 272.3h.01M1563.8 289.1h.01M1556.0 282.3h.01M1556.4 258.2h.01M1555.8 269.2h.01M1555.6 287.6h.01M1560.4 276.4h.01M1559.1 296.5h.01M1558.3 265.6h.01M1555.8 322.7h.01M1560.6 266.0h.01M1559.3 268.0h.01M1559.2 295.2h.01M1558.8 269.2h.01M1558.7 273.8h.01M1563.5 280.0h.01M1562.1 261.7h.01M1564.2 251.8h.01M1562.3 298.6h.01M1558.4 240.2h.01M1563.0 264.6h.01M1563.3 265.0h.01M1561.8 288.8h.01M1561.6 279.1h.01M1562.4 298.2h.01M1562.8 273.8h.01M1558.6 302.2h.01" stroke="#00008b" stroke-opacity="0.62" stroke-width="1.9" stroke-linecap="round" fill="none"/>
<path d="M1562.5 252.2h.01M1561.0 274.4h.01M1559.6 269.9h.01M1558.8 283.0h.01M1555.6 286.0h.01M1560.5 260.1h.01M1557.7 266.5h.01M1559.3 276.5h.01M1555.8 270.9h.01M1559.5 255.9h.01M1557.9 287.6h.01M1552.5 254.6h.01M1558.3 292.8h.01M1558.7 290.7h.01M1560.9 288.6h.01M1560.1 286.8h.01M1560.5 262.1h.01M1558.2 269.8h.01M1556.8 273.2h.01M1558.6 256.6h.01M1562.1 246.1h.01M1560.0 279.4h.01M1558.7 280.6h.01M1558.0 269.2h.01M1561.9 283.8h.01M1563.1 276.0h.01M1561.5 286.0h.01M1557.6 283.5h.01M1557.2 281.2h.01M1557.3 287.9h.01M1560.9 285.7h.01M1560.8 290.4h.01M1558.9 282.0h.01M1556.6 287.8h.01M1556.5 280.8h.01M1557.5 279.9h.01M1560.9 250.0h.01M1558.5 292.9h.01M1559.3 237.6h.01M1562.8 291.5h.01M1557.6 277.7h.01M1563.4 255.0h.01M1562.2 252.1h.01M1559.6 268.8h.01M1564.1 265.3h.01M1554.6 272.3h.01M1559.5 281.9h.01M1559.8 269.2h.01M1560.1 252.6h.01M1559.2 287.6h.01M1557.1 262.8h.01M1562.4 254.8h.01M1560.4 270.8h.01M1563.0 254.2h.01M1560.7 269.2h.01M1558.2 273.9h.01M1553.3 268.8h.01M1559.1 268.9h.01M1559.7 274.4h.01M1556.6 264.5h.01M1559.6 276.8h.01M1557.2 251.1h.01M1559.9 313.7h.01M1557.3 258.5h.01M1562.7 265.0h.01M1559.1 253.3h.01M1561.0 274.7h.01M1557.6 272.2h.01M1558.3 279.4h.01M1560.8 286.7h.01M1557.6 244.6h.01M1558.8 274.0h.01M1557.5 257.1h.01M1555.3 284.6h.01M1559.9 301.5h.01M1560.8 265.6h.01M1558.1 251.2h.01M1564.0 261.1h.01M1559.8 283.3h.01M1559.0 284.0h.01M1555.4 268.0h.01M1556.5 282.0h.01M1560.2 299.4h.01M1560.7 281.9h.01M1559.8 307.6h.01M1556.3 272.3h.01M1554.0 255.8h.01M1558.3 261.4h.01M1562.8 255.9h.01M1560.5 287.5h.01M1559.8 285.0h.01M1560.9 307.6h.01M1559.2 291.5h.01M1554.4 260.6h.01M1560.4 270.4h.01M1558.7 256.2h.01M1553.5 257.5h.01M1560.9 280.6h.01M1553.2 263.6h.01M1560.0 259.4h.01M1558.0 256.4h.01M1557.7 293.7h.01M1557.6 247.5h.01M1559.7 262.1h.01M1560.4 265.4h.01M1563.5 265.9h.01M1561.4 286.1h.01M1562.1 253.6h.01M1556.2 243.3h.01M1558.2 278.5h.01M1558.9 276.4h.01M1558.0 240.5h.01M1558.4 261.9h.01M1562.5 277.1h.01M1561.0 270.9h.01M1562.1 266.9h.01M1559.9 269.2h.01M1557.8 256.6h.01M1559.6 263.4h.01M1561.1 283.4h.01M1559.0 271.7h.01M1563.9 271.4h.01M1562.7 258.8h.01M1559.8 271.9h.01M1559.8 302.7h.01M1562.2 277.0h.01M1561.3 253.2h.01M1562.0 285.9h.01M1554.8 260.5h.01M1553.6 270.5h.01M1558.8 258.2h.01M1558.8 276.1h.01M1555.3 249.2h.01M1561.7 256.7h.01M1558.5 268.0h.01M1558.8 263.0h.01M1557.3 289.6h.01M1556.7 274.6h.01M1560.6 274.6h.01M1559.0 249.1h.01M1558.6 253.1h.01M1558.0 257.5h.01M1560.4 283.4h.01M1560.5 300.3h.01M1555.8 273.3h.01M1559.3 246.4h.01M1554.4 274.6h.01M1560.0 266.0h.01M1560.0 280.9h.01M1559.6 260.5h.01M1554.9 254.9h.01M1553.2 242.3h.01M1556.8 246.2h.01M1558.5 243.7h.01M1556.0 260.3h.01M1555.8 270.1h.01M1560.0 277.8h.01M1554.3 248.5h.01M1563.7 260.5h.01M1561.3 291.3h.01M1561.0 303.0h.01M1560.6 260.8h.01M1558.1 301.4h.01M1559.3 280.8h.01M1559.0 286.5h.01M1564.1 272.9h.01M1559.4 307.2h.01M1559.3 261.8h.01M1557.6 248.6h.01M1560.2 249.8h.01M1561.2 276.0h.01M1556.0 287.4h.01M1562.6 286.5h.01M1557.2 279.8h.01M1558.0 281.7h.01M1557.9 264.0h.01M1560.0 273.2h.01M1562.7 240.4h.01M1558.7 272.4h.01M1559.3 248.6h.01M1560.9 280.8h.01M1565.2 241.4h.01M1564.6 253.2h.01M1560.4 241.9h.01M1555.6 261.0h.01M1555.7 261.5h.01M1559.4 252.0h.01M1553.2 257.7h.01M1560.1 273.5h.01M1557.2 234.1h.01M1560.3 269.3h.01M1559.6 281.3h.01M1560.5 252.9h.01M1556.6 247.7h.01M1561.7 235.8h.01M1555.6 272.9h.01M1556.5 281.3h.01M1558.1 264.9h.01M1563.9 278.1h.01M1556.9 283.3h.01" stroke="#ff0000" stroke-opacity="0.62" stroke-width="1.9" stroke-linecap="round" fill="none"/>
<path d="M1405.37 410.83L1558.96 269.99" stroke="#ff0000" stroke-width="2" fill="none"/>
<circle cx="1405.37" cy="410.83" r="2.8" fill="#ff0000"/>
<circle cx="1558.96" cy="269.99" r="2.8" fill="#ff0000"/>
<path d="M1400.52 464.48L1559.77 275.58" stroke="#00008b" stroke-width="2" fill="none"/>
<circle cx="1400.52" cy="464.48" r="2.8" fill="#00008b"/>
<circle cx="1559.77" cy="275.58" r="2.8" fill="#00008b"/>
<path d="M440.8 974.7h.01M438.9 906.6h.01M429.4 838.8h.01M429.3 844.2h.01M438.7 965.4h.01M434.8 1033.0h.01M441.8 792.6h.01M425.1 1051.1h.01M447.3 985.8h.01M430.3 1078.5h.01M439.3 927.7h.01M444.2 826.3h.01M432.0 830.6h.01M432.9 992.5h.01M423.5 923.1h.01M440.4 941.9h.01M438.3 915.5h.01M426.8 850.8h.01M438.4 940.0h.01M446.8 1073.4h.01M446.9 787.3h.01M439.8 945.0h.01M437.8 905.8h.01M427.3 791.2h.01M429.0 983.8h.01M441.9 870.8h.01M440.7 1008.3h.01M441.0 863.3h.01M436.0 975.7h.01M423.1 900.5h.01M430.6 924.3h.01M429.7 1032.7h.01M437.7 902.0h.01M434.7 1062.1h.01M433.9 957.2h.01M444.3 943.5h.01M449.7 879.2h.01M441.5 956.5h.01M430.5 987.0h.01M437.0 891.7h.01M440.7 903.5h.01M417.1 857.3h.01M434.5 911.4h.01M428.1 1023.9h.01M422.1 940.7h.01M438.3 888.6h.01M431.4 1024.3h.01M455.6 797.6h.01M432.8 913.1h.01M450.4 774.1h.01M452.0 918.6h.01M427.4 1072.5h.01M430.3 911.8h.01M439.5 833.8h.01M437.7 850.5h.01M422.1 1037.4h.01M436.3 1053.7h.01M436.3 809.5h.01M447.5 999.5h.01M435.4 962.2h.01M434.7 1062.7h.01M428.8 903.2h.01M422.5 882.6h.01M445.4 950.9h.01M420.6 899.3h.01M440.0 877.9h.01M426.9 899.2h.01M428.1 857.9h.01M432.4 903.5h.01M440.9 957.3h.01M447.4 888.0h.01M430.9 981.7h.01M424.7 968.0h.01M437.3 884.2h.01M444.5 875.1h.01M430.5 1022.4h.01M428.4 811.2h.01M428.5 810.5h.01M429.1 1053.2h.01M421.9 967.5h.01M430.5 806.6h.01M446.8 1008.2h.01M422.6 989.5h.01M438.0 943.1h.01M432.0 778.0h.01M436.9 1067.2h.01M444.4 890.5h.01M433.7 870.9h.01M447.0 864.0h.01M433.6 797.1h.01M447.1 1005.4h.01M425.4 952.7h.01M441.8 1076.1h.01M438.0 939.9h.01M439.6 993.9h.01M422.9 907.5h.01M443.8 949.4h.01M432.0 869.1h.01M435.1 818.5h.01M434.0 1110.8h.01M440.6 1030.6h.01M438.0 977.7h.01M428.8 789.8h.01M433.5 926.6h.01M432.0 895.5h.01M440.3 920.7h.01M430.2 904.9h.01M432.1 909.6h.01M434.4 965.8h.01M434.6 965.4h.01M439.4 815.2h.01M440.5 865.5h.01M427.6 943.1h.01M442.9 950.1h.01M439.3 931.0h.01M433.0 828.8h.01M421.6 887.6h.01M436.2 965.2h.01M433.1 959.1h.01M449.0 941.8h.01M422.6 885.9h.01M434.6 952.1h.01M436.0 937.6h.01M444.0 1055.1h.01M433.4 914.6h.01M443.9 889.8h.01M431.6 959.8h.01M433.9 1032.9h.01M449.6 965.8h.01M421.2 971.8h.01M430.8 897.5h.01M418.2 1018.7h.01M437.6 897.5h.01M442.5 782.9h.01M444.2 901.7h.01M430.8 1065.1h.01M424.8 886.6h.01M431.0 895.5h.01M423.4 882.4h.01M431.0 890.2h.01M445.9 1075.5h.01M429.6 1048.1h.01M432.4 844.8h.01M434.0 804.3h.01M440.7 893.3h.01M432.2 827.2h.01M437.7 959.6h.01M435.4 888.0h.01M434.8 921.1h.01M446.4 867.4h.01M446.2 882.8h.01M430.7 828.5h.01M429.1 947.2h.01M429.3 962.7h.01M421.7 888.1h.01M436.3 833.5h.01M421.8 1127.8h.01M433.9 962.5h.01M434.0 909.7h.01M432.0 868.5h.01M430.1 873.8h.01M436.6 1047.3h.01M434.4 933.7h.01M438.1 934.0h.01M437.5 926.9h.01M442.6 966.5h.01M431.4 1030.5h.01M435.1 975.2h.01M422.2 836.8h.01M440.2 854.8h.01M429.0 970.4h.01M433.2 1053.0h.01M434.6 930.9h.01M452.5 908.9h.01M433.5 991.7h.01M435.9 930.9h.01M427.6 924.4h.01M435.6 810.6h.01M429.2 989.7h.01M431.1 961.1h.01M430.0 1008.1h.01M427.2 898.3h.01M439.7 896.4h.01M445.3 935.7h.01M418.2 996.9h.01M439.0 963.0h.01M429.7 900.4h.01M436.3 1035.3h.01M433.5 884.2h.01M440.3 917.3h.01M438.4 914.6h.01M433.8 831.1h.01M436.2 938.1h.01M443.0 994.3h.01M439.9 960.0h.01M437.7 914.6h.01M422.9 903.9h.01M435.6 912.1h.01M432.9 993.3h.01M439.8 988.3h.01" stroke="#ff0000" stroke-opacity="0.8" stroke-width="1.9" stroke-linecap="round" fill="none"/>
<path d="M592.1 1001.1h.01M590.2 944.2h.01M594.6 1030.4h.01M589.7 970.2h.01M582.2 932.9h.01M592.5 956.2h.01M589.3 965.8h.01M592.4 943.7h.01M593.4 889.4h.01M594.4 1019.3h.01M590.9 961.6h.01M584.4 982.6h.01M586.3 941.9h.01M600.0 967.8h.01M583.2 1173.8h.01M591.8 972.0h.01M590.8 953.1h.01M588.0 1069.6h.01M591.8 988.9h.01M592.2 1060.6h.01M590.4 991.3h.01M586.1 993.6h.01M590.1 976.6h.01M590.6 1009.6h.01M591.9 818.4h.01M582.7 1019.0h.01M586.8 947.1h.01M586.3 946.4h.01M584.6 975.4h.01M586.9 980.4h.01M586.3 1002.0h.01M594.0 984.1h.01M590.2 894.6h.01M591.5 982.0h.01M588.3 944.5h.01M591.0 1017.4h.01M590.9 1093.1h.01M592.1 972.4h.01M592.0 980.4h.01M587.5 933.2h.01M580.9 989.6h.01M590.0 965.4h.01M590.4 967.3h.01M581.1 898.2h.01M590.6 1016.2h.01M586.1 888.0h.01M588.1 1008.7h.01M586.1 984.3h.01M587.4 991.3h.01M591.5 947.6h.01M595.7 916.1h.01M591.4 950.9h.01M587.3 948.8h.01M574.8 955.9h.01M586.4 918.4h.01M586.3 993.6h.01M586.5 984.2h.01M582.9 1010.0h.01M584.2 939.0h.01M593.0 1073.0h.01M591.5 944.6h.01M587.7 1094.6h.01M591.7 1049.4h.01M586.1 1078.7h.01M594.6 971.9h.01M585.0 1058.5h.01M586.4 990.9h.01M591.1 969.9h.01M586.3 881.7h.01M587.8 1002.7h.01M584.0 971.1h.01M593.6 994.5h.01M586.8 959.3h.01M587.9 1058.6h.01M582.3 958.3h.01M593.2 1003.4h.01M581.0 936.0h.01M596.8 1020.1h.01M588.7 1054.9h.01M577.0 975.8h.01M590.0 922.0h.01M578.9 926.1h.01M592.2 899.8h.01M595.5 1093.9h.01M583.2 920.6h.01M584.2 901.4h.01M588.3 1040.4h.01M591.3 954.5h.01M591.7 1023.6h.01M583.5 1117.6h.01M584.8 919.2h.01M577.4 978.5h.01M583.7 963.7h.01M586.0 974.2h.01M590.0 947.8h.01M591.5 970.6h.01M590.7 904.9h.01M586.0 1047.4h.01M583.7 977.6h.01M585.2 1008.1h.01M585.9 982.9h.01M592.7 961.5h.01M591.0 1019.9h.01M595.2 958.1h.01M592.2 1024.8h.01M584.1 1027.7h.01M583.1 905.9h.01M590.3 1090.4h.01M586.9 926.5h.01M595.9 1131.0h.01M589.0 936.6h.01M592.1 1011.6h.01M589.7 1012.5h.01M583.9 912.5h.01M585.5 995.9h.01M589.3 985.8h.01M578.0 995.3h.01M581.9 951.1h.01M594.5 905.9h.01M590.0 1067.3h.01M579.1 1017.4h.01M592.9 929.1h.01M575.1 1059.2h.01M594.9 998.2h.01M595.6 949.3h.01M595.6 1000.2h.01M591.6 1008.5h.01M591.2 971.5h.01M583.9 1063.6h.01M590.8 894.8h.01M584.8 1030.2h.01M586.2 1118.2h.01M581.3 1040.5h.01M595.1 951.4h.01M586.4 1028.6h.01M578.8 1003.4h.01M584.4 1012.5h.01M584.3 951.5h.01M587.9 923.5h.01M589.1 997.3h.01M582.4 978.8h.01M593.7 958.6h.01M591.2 914.9h.01M584.8 936.0h.01M586.6 1009.4h.01M590.1 995.3h.01M590.1 961.1h.01M586.5 1003.8h.01M586.7 1003.3h.01M579.1 1088.9h.01M588.8 873.8h.01M579.4 960.9h.01M592.2 1046.0h.01M586.4 1035.5h.01M585.2 1042.2h.01M596.2 1046.5h.01M578.4 1004.9h.01M583.3 956.1h.01M591.1 917.6h.01M590.3 999.2h.01M592.0 1039.6h.01M590.0 982.1h.01M591.0 997.1h.01M583.8 997.2h.01M580.5 1092.8h.01M580.0 962.8h.01M588.0 1016.4h.01M587.5 1040.3h.01M594.6 958.8h.01M584.3 919.7h.01M583.1 1010.9h.01M593.6 941.8h.01M583.0 972.2h.01M588.6 1001.2h.01M583.0 964.7h.01M584.0 957.7h.01M595.2 895.4h.01M579.4 949.3h.01M587.9 968.7h.01M591.7 1043.6h.01M581.2 952.0h.01M584.9 1011.4h.01M585.8 1119.7h.01M583.0 992.2h.01M583.8 975.5h.01M595.4 1006.2h.01M584.2 998.3h.01M588.6 936.0h.01M586.5 999.7h.01M590.2 984.4h.01M587.0 995.9h.01M580.2 978.6h.01M588.3 1005.3h.01M589.4 1004.6h.01M580.9 1056.0h.01M585.9 947.0h.01M594.1 990.0h.01M594.7 983.5h.01M588.0 1091.7h.01M585.7 951.3h.01" stroke="#ff0000" stroke-opacity="0.8" stroke-width="1.9" stroke-linecap="round" fill="none"/>
<path d="M115.5 965H923" stroke="#000" stroke-width="2.4" stroke-dasharray="8.9 3.2" fill="none"/>
<path d="M434.37 929.31L587.96 985.87" stroke="#000" stroke-width="2" fill="none"/>
<path d="M434.37 850.57V1008.05M427.87 850.57H440.87M427.87 1008.05H440.87" stroke="#000" stroke-width="2" fill="none"/>
<circle cx="434.37" cy="929.31" r="3.6" fill="#000"/>
<text ><tspan class="r" font-size="27.8" x="359.75" y="1082.2">0.032</tspan><tspan class="m" font-size="25.58" x="424.7" y="1083.45">±</tspan><tspan class="r" font-size="27.8" x="447.45" y="1082.2">0.071</tspan></text>
<path d="M587.96 928.2V1043.54M581.46 928.2H594.46M581.46 1043.54H594.46" stroke="#000" stroke-width="2" fill="none"/>
<circle cx="587.96" cy="985.87" r="3.6" fill="#000"/>
<text ><tspan class="m" font-size="24.6" x="503.48" y="1114.64">−</tspan><tspan class="r" font-size="27.8" x="521.74" y="1115.2">0.019</tspan><tspan class="m" font-size="25.58" x="587.11" y="1116.45">±</tspan><tspan class="r" font-size="27.8" x="609.86" y="1115.2">0.052</tspan></text>
<path d="M1400.6 922.2h.01M1406.6 918.1h.01M1401.4 933.3h.01M1405.2 898.7h.01M1406.3 881.5h.01M1402.7 950.8h.01M1400.0 885.1h.01M1404.1 992.2h.01M1400.6 883.5h.01M1398.8 880.2h.01M1402.8 917.2h.01M1406.3 913.7h.01M1404.3 930.1h.01M1403.7 917.9h.01M1403.7 930.0h.01M1399.1 860.9h.01M1398.4 897.9h.01M1401.8 899.7h.01M1403.5 864.3h.01M1404.5 916.6h.01M1405.6 925.2h.01M1400.8 864.3h.01M1400.4 889.3h.01M1399.8 920.3h.01M1400.1 905.2h.01M1402.0 961.4h.01M1403.4 903.1h.01M1399.4 911.5h.01M1402.0 898.6h.01M1403.6 931.5h.01M1401.2 927.1h.01M1403.3 947.9h.01M1402.2 920.2h.01M1406.3 899.8h.01M1402.1 865.6h.01M1401.6 910.1h.01M1400.4 868.5h.01M1402.6 959.2h.01M1401.4 904.7h.01M1402.3 920.8h.01M1405.7 889.1h.01M1398.3 906.2h.01M1403.6 909.5h.01M1402.1 905.6h.01M1402.7 935.9h.01M1401.3 936.5h.01M1400.3 939.1h.01M1403.1 921.1h.01M1403.3 913.5h.01M1400.4 911.2h.01M1400.3 925.3h.01M1401.8 916.7h.01M1403.6 974.3h.01M1401.4 891.0h.01M1401.7 905.9h.01M1404.3 919.9h.01M1405.1 889.3h.01M1402.1 893.4h.01M1401.6 927.2h.01M1397.9 930.7h.01M1405.1 909.7h.01M1403.3 959.3h.01M1401.8 923.4h.01M1401.4 903.6h.01M1399.6 917.0h.01M1407.2 914.0h.01M1402.9 932.9h.01M1401.5 906.5h.01M1405.0 919.3h.01M1402.0 929.9h.01M1401.0 947.4h.01M1398.9 906.0h.01M1405.8 879.3h.01M1406.0 914.7h.01M1399.5 927.2h.01M1405.0 947.6h.01M1398.4 911.8h.01M1405.0 886.5h.01M1407.3 890.1h.01M1401.4 900.3h.01M1402.8 950.6h.01M1406.0 867.2h.01M1400.8 893.1h.01M1408.6 888.2h.01M1406.1 927.0h.01M1400.5 938.7h.01M1403.0 935.9h.01M1401.5 920.1h.01M1404.2 965.0h.01M1401.2 958.6h.01M1402.9 914.2h.01M1407.6 913.6h.01M1401.0 906.2h.01M1405.6 907.8h.01M1399.0 910.5h.01M1405.8 933.0h.01M1401.9 883.6h.01M1401.5 907.1h.01M1401.1 944.1h.01M1402.4 878.6h.01M1408.2 894.9h.01M1404.0 832.8h.01M1400.7 882.4h.01M1403.9 848.2h.01M1400.1 891.1h.01M1405.2 905.7h.01M1405.7 885.3h.01M1402.2 927.9h.01M1402.2 929.9h.01M1404.8 921.8h.01M1399.8 874.8h.01M1403.2 905.3h.01M1404.4 900.3h.01M1400.7 904.3h.01M1402.3 901.1h.01M1401.3 894.6h.01M1400.3 894.6h.01M1404.2 881.5h.01M1398.9 880.9h.01M1401.3 923.5h.01M1400.2 938.1h.01M1400.7 881.0h.01M1404.3 923.7h.01M1403.4 954.8h.01M1404.2 914.9h.01M1406.4 895.6h.01M1404.3 917.3h.01M1403.3 971.8h.01M1406.6 918.7h.01M1403.8 932.9h.01M1404.9 909.0h.01M1405.9 909.3h.01M1402.9 911.5h.01M1402.5 922.9h.01M1405.6 952.9h.01M1400.2 944.1h.01M1399.0 932.7h.01M1403.7 942.0h.01M1403.3 909.7h.01M1405.8 907.8h.01M1400.8 929.9h.01M1402.6 880.5h.01M1403.6 950.3h.01M1403.7 854.6h.01M1401.1 908.1h.01M1407.9 907.0h.01M1400.5 941.6h.01M1403.8 958.5h.01M1402.1 934.4h.01M1401.9 913.0h.01M1404.1 910.2h.01M1398.9 923.8h.01M1401.6 951.0h.01M1406.5 871.7h.01M1399.0 862.8h.01M1404.4 953.7h.01M1400.9 896.6h.01M1406.7 880.8h.01M1403.9 925.3h.01M1403.0 947.1h.01M1400.7 971.9h.01M1402.7 947.7h.01M1403.6 878.3h.01M1405.9 897.1h.01M1402.1 911.2h.01M1403.9 862.0h.01M1399.1 955.2h.01M1403.9 911.5h.01M1405.5 937.2h.01M1403.2 931.7h.01M1403.0 921.9h.01M1401.3 905.5h.01M1403.9 882.7h.01M1400.8 892.4h.01M1403.3 879.4h.01M1404.5 937.2h.01M1397.3 912.0h.01M1401.5 893.8h.01M1400.8 863.3h.01M1401.2 873.2h.01M1402.1 934.7h.01M1405.0 928.3h.01M1404.2 920.2h.01M1402.5 937.8h.01M1404.7 864.4h.01M1398.2 921.0h.01M1400.0 892.4h.01M1403.3 901.4h.01M1404.6 919.0h.01M1402.9 886.9h.01M1398.4 923.0h.01M1398.2 906.8h.01M1406.7 911.7h.01M1403.5 876.8h.01M1401.3 959.3h.01M1404.2 943.4h.01M1402.2 917.4h.01M1406.9 897.5h.01M1398.3 900.7h.01M1399.0 915.1h.01" stroke="#ff0000" stroke-opacity="0.8" stroke-width="1.9" stroke-linecap="round" fill="none"/>
<path d="M1558.4 942.3h.01M1558.5 964.8h.01M1555.1 956.5h.01M1559.7 1010.3h.01M1560.9 954.6h.01M1558.9 932.2h.01M1559.6 1002.2h.01M1558.4 1001.3h.01M1561.1 982.2h.01M1564.9 940.0h.01M1559.1 948.3h.01M1559.9 923.2h.01M1558.9 973.6h.01M1557.6 950.3h.01M1559.2 985.5h.01M1559.3 936.2h.01M1559.4 971.9h.01M1558.6 946.3h.01M1562.1 970.8h.01M1557.8 920.5h.01M1560.4 986.3h.01M1561.2 969.1h.01M1559.6 964.3h.01M1561.6 937.2h.01M1561.1 952.7h.01M1559.2 951.0h.01M1560.0 965.9h.01M1557.5 974.0h.01M1554.8 909.0h.01M1559.9 924.6h.01M1558.0 943.2h.01M1559.4 990.8h.01M1559.9 935.8h.01M1560.7 935.9h.01M1562.3 1011.2h.01M1559.4 974.2h.01M1557.3 971.4h.01M1561.3 951.1h.01M1560.9 934.2h.01M1561.8 970.8h.01M1555.7 970.9h.01M1558.7 985.6h.01M1556.7 965.0h.01M1561.0 951.9h.01M1559.9 919.8h.01M1561.3 980.0h.01M1560.4 921.1h.01M1559.2 966.8h.01M1560.0 978.7h.01M1559.6 964.9h.01M1558.1 1026.9h.01M1559.8 980.8h.01M1557.6 951.9h.01M1560.2 956.0h.01M1559.7 969.3h.01M1560.9 967.3h.01M1557.2 956.3h.01M1557.4 947.1h.01M1559.5 943.0h.01M1558.1 955.7h.01M1557.7 945.1h.01M1560.9 987.0h.01M1561.5 959.8h.01M1561.9 982.2h.01M1557.5 987.9h.01M1558.8 964.1h.01M1559.3 930.2h.01M1556.7 943.1h.01M1558.9 919.2h.01M1560.7 974.3h.01M1556.2 962.7h.01M1562.2 960.3h.01M1561.8 972.7h.01M1560.2 967.7h.01M1562.4 989.9h.01M1560.6 976.2h.01M1561.4 938.0h.01M1558.1 950.5h.01M1558.2 948.0h.01M1554.8 952.5h.01M1562.0 956.5h.01M1555.5 999.9h.01M1561.6 952.6h.01M1559.8 947.6h.01M1558.3 944.1h.01M1558.2 960.9h.01M1558.7 935.5h.01M1556.4 896.3h.01M1560.2 963.2h.01M1565.2 937.9h.01M1557.5 987.7h.01M1558.3 940.2h.01M1559.2 956.5h.01M1554.6 969.8h.01M1562.5 961.6h.01M1556.4 952.6h.01M1559.1 953.7h.01M1560.1 957.9h.01M1560.9 932.4h.01M1559.0 965.0h.01M1558.9 940.5h.01M1560.6 914.6h.01M1558.4 953.9h.01M1559.8 958.3h.01M1559.4 925.8h.01M1560.1 981.5h.01M1562.7 950.6h.01M1561.3 965.1h.01M1559.7 945.4h.01M1559.0 951.0h.01M1559.6 927.8h.01M1556.5 960.5h.01M1558.7 942.3h.01M1554.2 965.7h.01M1557.7 975.4h.01M1555.7 967.9h.01M1559.1 982.2h.01M1557.2 960.4h.01M1559.9 992.9h.01M1560.5 968.4h.01M1560.1 974.3h.01M1555.5 977.1h.01M1561.9 967.7h.01M1560.2 958.0h.01M1563.0 965.1h.01M1562.0 958.5h.01M1555.0 974.4h.01M1559.0 936.7h.01M1560.8 950.5h.01M1559.4 951.4h.01M1562.7 945.7h.01M1563.2 944.2h.01M1559.8 935.2h.01M1556.8 970.6h.01M1559.7 946.1h.01M1558.7 926.3h.01M1558.2 948.7h.01M1564.2 958.4h.01M1555.2 966.7h.01M1559.1 981.0h.01M1558.7 916.6h.01M1560.1 966.2h.01M1559.9 951.0h.01M1562.1 951.9h.01M1560.4 968.2h.01M1561.3 957.5h.01M1559.1 937.3h.01M1554.9 989.2h.01M1564.1 960.9h.01M1557.9 922.7h.01M1560.7 937.4h.01M1560.3 966.8h.01M1559.9 962.7h.01M1560.3 961.0h.01M1560.5 975.2h.01M1560.9 922.5h.01M1559.0 925.0h.01M1559.9 964.6h.01M1559.3 908.7h.01M1557.1 982.3h.01M1557.2 957.6h.01M1558.9 996.4h.01M1559.3 971.4h.01M1558.7 931.9h.01M1560.7 957.0h.01M1559.6 967.7h.01M1562.6 968.7h.01M1560.2 968.1h.01M1556.7 944.8h.01M1562.0 974.5h.01M1558.5 946.9h.01M1560.5 995.7h.01M1559.7 942.2h.01M1558.0 954.1h.01M1563.4 952.4h.01M1558.0 969.9h.01M1557.2 929.1h.01M1561.6 960.3h.01M1560.3 969.3h.01M1556.4 964.3h.01M1562.2 960.3h.01M1556.6 953.2h.01M1556.1 925.3h.01M1560.4 947.8h.01M1562.4 956.2h.01M1562.1 920.6h.01M1559.2 948.8h.01M1559.4 935.0h.01M1559.8 931.7h.01M1560.9 909.4h.01M1561.0 984.7h.01M1561.6 958.1h.01M1557.0 941.5h.01M1557.7 927.8h.01M1558.8 975.3h.01M1557.7 971.4h.01M1563.0 960.4h.01M1556.8 946.7h.01M1559.2 967.5h.01M1558.7 965.1h.01" stroke="#ff0000" stroke-opacity="0.8" stroke-width="1.9" stroke-linecap="round" fill="none"/>
<path d="M1086.55 965H1894" stroke="#000" stroke-width="2.4" stroke-dasharray="8.9 3.2" fill="none"/>
<path d="M1402.68 912.68L1559.37 957.04" stroke="#000" stroke-width="2" fill="none"/>
<path d="M1402.68 886.06V939.29M1396.18 886.06H1409.18M1396.18 939.29H1409.18" stroke="#000" stroke-width="2" fill="none"/>
<circle cx="1402.68" cy="912.68" r="3.6" fill="#000"/>
<text ><tspan class="r" font-size="27.8" x="1327.05" y="1082.2">0.047</tspan><tspan class="m" font-size="25.58" x="1392.77" y="1083.45">±</tspan><tspan class="r" font-size="27.8" x="1415.52" y="1082.2">0.024</tspan></text>
<path d="M1559.37 932.64V981.43M1552.87 932.64H1565.87M1552.87 981.43H1565.87" stroke="#000" stroke-width="2" fill="none"/>
<circle cx="1559.37" cy="957.04" r="3.6" fill="#000"/>
<text ><tspan class="r" font-size="27.8" x="1484.3" y="1115.2">0.007</tspan><tspan class="m" font-size="25.58" x="1550.02" y="1116.45">±</tspan><tspan class="r" font-size="27.8" x="1572.77" y="1115.2">0.022</tspan></text>
<rect x="115.5" y="59.1" width="807.5" height="614.4" fill="none" stroke="#000" stroke-width="1.25"/>
<path d="M250.1 670.1V676.9M250.1 55.7V62.5M384.6 670.1V676.9M384.6 55.7V62.5M519.1 670.1V676.9M519.1 55.7V62.5M653.6 670.1V676.9M653.6 55.7V62.5M788.1 670.1V676.9M788.1 55.7V62.5M112.1 114.62H118.9M919.6 114.62H926.4M112.1 170.51H118.9M919.6 170.51H926.4M112.1 226.4H118.9M919.6 226.4H926.4M112.1 282.28H118.9M919.6 282.28H926.4M112.1 338.17H118.9M919.6 338.17H926.4M112.1 394.06H118.9M919.6 394.06H926.4M112.1 449.95H118.9M919.6 449.95H926.4M112.1 505.84H118.9M919.6 505.84H926.4M112.1 561.72H118.9M919.6 561.72H926.4M112.1 617.61H118.9M919.6 617.61H926.4M112.1 673.5H118.9M919.6 673.5H926.4" stroke="#000" stroke-width="2" fill="none"/>
<text ><tspan class="m" font-size="22.74" x="219.9" y="695.59">−</tspan><tspan class="r" font-size="25.7" x="235.49" y="696.1">11.5</tspan></text>
<text ><tspan class="m" font-size="22.74" x="354.37" y="695.59">−</tspan><tspan class="r" font-size="25.7" x="369.96" y="696.1">11.0</tspan></text>
<text ><tspan class="m" font-size="22.74" x="488.42" y="695.59">−</tspan><tspan class="r" font-size="25.7" x="504.01" y="696.1">10.5</tspan></text>
<text ><tspan class="m" font-size="22.74" x="622.89" y="695.59">−</tspan><tspan class="r" font-size="25.7" x="638.48" y="696.1">10.0</tspan></text>
<text ><tspan class="m" font-size="22.74" x="763.14" y="695.59">−</tspan><tspan class="r" font-size="25.7" x="780.14" y="696.1">9.5</tspan></text>
<text ><tspan class="r" font-size="25.7" x="65.94" y="123.22">0.00</tspan></text>
<text ><tspan class="m" font-size="22.74" x="49.13" y="178.59">−</tspan><tspan class="r" font-size="25.7" x="66" y="179.11">0.05</tspan></text>
<text ><tspan class="m" font-size="22.74" x="49.06" y="234.48">−</tspan><tspan class="r" font-size="25.7" x="65.94" y="235">0.10</tspan></text>
<text ><tspan class="m" font-size="22.74" x="49.13" y="290.37">−</tspan><tspan class="r" font-size="25.7" x="66" y="290.88">0.15</tspan></text>
<text ><tspan class="m" font-size="22.74" x="49.06" y="346.26">−</tspan><tspan class="r" font-size="25.7" x="65.94" y="346.77">0.20</tspan></text>
<text ><tspan class="m" font-size="22.74" x="49.13" y="402.15">−</tspan><tspan class="r" font-size="25.7" x="66" y="402.66">0.25</tspan></text>
<text ><tspan class="m" font-size="22.74" x="49.06" y="458.03">−</tspan><tspan class="r" font-size="25.7" x="65.94" y="458.55">0.30</tspan></text>
<text ><tspan class="m" font-size="22.74" x="49.13" y="513.92">−</tspan><tspan class="r" font-size="25.7" x="66" y="514.44">0.35</tspan></text>
<text ><tspan class="m" font-size="22.74" x="49.06" y="569.81">−</tspan><tspan class="r" font-size="25.7" x="65.94" y="570.32">0.40</tspan></text>
<text ><tspan class="m" font-size="22.74" x="49.13" y="625.7">−</tspan><tspan class="r" font-size="25.7" x="66" y="626.21">0.45</tspan></text>
<text ><tspan class="m" font-size="22.74" x="49.06" y="681.59">−</tspan><tspan class="r" font-size="25.7" x="65.94" y="682.1">0.50</tspan></text>
<rect x="1086.55" y="59.1" width="807.45" height="614.4" fill="none" stroke="#000" stroke-width="1.25"/>
<path d="M1221.1 670.1V676.9M1221.1 55.7V62.5M1355.6 670.1V676.9M1355.6 55.7V62.5M1490.1 670.1V676.9M1490.1 55.7V62.5M1624.6 670.1V676.9M1624.6 55.7V62.5M1759.1 670.1V676.9M1759.1 55.7V62.5M1083.15 114.62H1089.95M1890.6 114.62H1897.4M1083.15 170.51H1089.95M1890.6 170.51H1897.4M1083.15 226.4H1089.95M1890.6 226.4H1897.4M1083.15 282.28H1089.95M1890.6 282.28H1897.4M1083.15 338.17H1089.95M1890.6 338.17H1897.4M1083.15 394.06H1089.95M1890.6 394.06H1897.4M1083.15 449.95H1089.95M1890.6 449.95H1897.4M1083.15 505.84H1089.95M1890.6 505.84H1897.4M1083.15 561.72H1089.95M1890.6 561.72H1897.4M1083.15 617.61H1089.95M1890.6 617.61H1897.4M1083.15 673.5H1089.95M1890.6 673.5H1897.4" stroke="#000" stroke-width="2" fill="none"/>
<text ><tspan class="m" font-size="22.74" x="1190.9" y="695.59">−</tspan><tspan class="r" font-size="25.7" x="1206.49" y="696.1">11.5</tspan></text>
<text ><tspan class="m" font-size="22.74" x="1325.37" y="695.59">−</tspan><tspan class="r" font-size="25.7" x="1340.96" y="696.1">11.0</tspan></text>
<text ><tspan class="m" font-size="22.74" x="1459.42" y="695.59">−</tspan><tspan class="r" font-size="25.7" x="1475.01" y="696.1">10.5</tspan></text>
<text ><tspan class="m" font-size="22.74" x="1593.89" y="695.59">−</tspan><tspan class="r" font-size="25.7" x="1609.48" y="696.1">10.0</tspan></text>
<text ><tspan class="m" font-size="22.74" x="1734.14" y="695.59">−</tspan><tspan class="r" font-size="25.7" x="1751.14" y="696.1">9.5</tspan></text>
<text ><tspan class="r" font-size="25.7" x="1036.99" y="123.22">0.00</tspan></text>
<text ><tspan class="m" font-size="22.74" x="1020.18" y="178.59">−</tspan><tspan class="r" font-size="25.7" x="1037.05" y="179.11">0.05</tspan></text>
<text ><tspan class="m" font-size="22.74" x="1020.11" y="234.48">−</tspan><tspan class="r" font-size="25.7" x="1036.99" y="235">0.10</tspan></text>
<text ><tspan class="m" font-size="22.74" x="1020.18" y="290.37">−</tspan><tspan class="r" font-size="25.7" x="1037.05" y="290.88">0.15</tspan></text>
<text ><tspan class="m" font-size="22.74" x="1020.11" y="346.26">−</tspan><tspan class="r" font-size="25.7" x="1036.99" y="346.77">0.20</tspan></text>
<text ><tspan class="m" font-size="22.74" x="1020.18" y="402.15">−</tspan><tspan class="r" font-size="25.7" x="1037.05" y="402.66">0.25</tspan></text>
<text ><tspan class="m" font-size="22.74" x="1020.11" y="458.03">−</tspan><tspan class="r" font-size="25.7" x="1036.99" y="458.55">0.30</tspan></text>
<text ><tspan class="m" font-size="22.74" x="1020.18" y="513.92">−</tspan><tspan class="r" font-size="25.7" x="1037.05" y="514.44">0.35</tspan></text>
<text ><tspan class="m" font-size="22.74" x="1020.11" y="569.81">−</tspan><tspan class="r" font-size="25.7" x="1036.99" y="570.32">0.40</tspan></text>
<text ><tspan class="m" font-size="22.74" x="1020.18" y="625.7">−</tspan><tspan class="r" font-size="25.7" x="1037.05" y="626.21">0.45</tspan></text>
<text ><tspan class="m" font-size="22.74" x="1020.11" y="681.59">−</tspan><tspan class="r" font-size="25.7" x="1036.99" y="682.1">0.50</tspan></text>
<rect x="115.5" y="743" width="807.5" height="443.6" fill="none" stroke="#000" stroke-width="1.25"/>
<path d="M250.1 1183.2V1190M250.1 739.6V746.4M384.6 1183.2V1190M384.6 739.6V746.4M519.1 1183.2V1190M519.1 739.6V746.4M653.6 1183.2V1190M653.6 739.6V746.4M788.1 1183.2V1190M788.1 739.6V746.4M112.1 743H118.9M919.6 743H926.4M112.1 798.45H118.9M919.6 798.45H926.4M112.1 853.9H118.9M919.6 853.9H926.4M112.1 909.35H118.9M919.6 909.35H926.4M112.1 964.8H118.9M919.6 964.8H926.4M112.1 1020.25H118.9M919.6 1020.25H926.4M112.1 1075.7H118.9M919.6 1075.7H926.4M112.1 1131.15H118.9M919.6 1131.15H926.4M112.1 1186.6H118.9M919.6 1186.6H926.4" stroke="#000" stroke-width="2" fill="none"/>
<text ><tspan class="m" font-size="22.74" x="219.9" y="1208.69">−</tspan><tspan class="r" font-size="25.7" x="235.49" y="1209.2">11.5</tspan></text>
<text ><tspan class="m" font-size="22.74" x="354.37" y="1208.69">−</tspan><tspan class="r" font-size="25.7" x="369.96" y="1209.2">11.0</tspan></text>
<text ><tspan class="m" font-size="22.74" x="488.42" y="1208.69">−</tspan><tspan class="r" font-size="25.7" x="504.01" y="1209.2">10.5</tspan></text>
<text ><tspan class="m" font-size="22.74" x="622.89" y="1208.69">−</tspan><tspan class="r" font-size="25.7" x="638.48" y="1209.2">10.0</tspan></text>
<text ><tspan class="m" font-size="22.74" x="763.14" y="1208.69">−</tspan><tspan class="r" font-size="25.7" x="780.14" y="1209.2">9.5</tspan></text>
<text ><tspan class="r" font-size="25.7" x="65.94" y="751.6">0.20</tspan></text>
<text ><tspan class="r" font-size="25.7" x="66" y="807.05">0.15</tspan></text>
<text ><tspan class="r" font-size="25.7" x="65.94" y="862.5">0.10</tspan></text>
<text ><tspan class="r" font-size="25.7" x="66" y="917.95">0.05</tspan></text>
<text ><tspan class="r" font-size="25.7" x="65.94" y="973.4">0.00</tspan></text>
<text ><tspan class="m" font-size="22.74" x="49.13" y="1028.34">−</tspan><tspan class="r" font-size="25.7" x="66" y="1028.85">0.05</tspan></text>
<text ><tspan class="m" font-size="22.74" x="49.06" y="1083.79">−</tspan><tspan class="r" font-size="25.7" x="65.94" y="1084.3">0.10</tspan></text>
<text ><tspan class="m" font-size="22.74" x="49.13" y="1139.24">−</tspan><tspan class="r" font-size="25.7" x="66" y="1139.75">0.15</tspan></text>
<text ><tspan class="m" font-size="22.74" x="49.06" y="1194.69">−</tspan><tspan class="r" font-size="25.7" x="65.94" y="1195.2">0.20</tspan></text>
<rect x="1086.55" y="743" width="807.45" height="443.6" fill="none" stroke="#000" stroke-width="1.25"/>
<path d="M1221.1 1183.2V1190M1221.1 739.6V746.4M1355.6 1183.2V1190M1355.6 739.6V746.4M1490.1 1183.2V1190M1490.1 739.6V746.4M1624.6 1183.2V1190M1624.6 739.6V746.4M1759.1 1183.2V1190M1759.1 739.6V746.4M1083.15 743H1089.95M1890.6 743H1897.4M1083.15 798.45H1089.95M1890.6 798.45H1897.4M1083.15 853.9H1089.95M1890.6 853.9H1897.4M1083.15 909.35H1089.95M1890.6 909.35H1897.4M1083.15 964.8H1089.95M1890.6 964.8H1897.4M1083.15 1020.25H1089.95M1890.6 1020.25H1897.4M1083.15 1075.7H1089.95M1890.6 1075.7H1897.4M1083.15 1131.15H1089.95M1890.6 1131.15H1897.4M1083.15 1186.6H1089.95M1890.6 1186.6H1897.4" stroke="#000" stroke-width="2" fill="none"/>
<text ><tspan class="m" font-size="22.74" x="1190.9" y="1208.69">−</tspan><tspan class="r" font-size="25.7" x="1206.49" y="1209.2">11.5</tspan></text>
<text ><tspan class="m" font-size="22.74" x="1325.37" y="1208.69">−</tspan><tspan class="r" font-size="25.7" x="1340.96" y="1209.2">11.0</tspan></text>
<text ><tspan class="m" font-size="22.74" x="1459.42" y="1208.69">−</tspan><tspan class="r" font-size="25.7" x="1475.01" y="1209.2">10.5</tspan></text>
<text ><tspan class="m" font-size="22.74" x="1593.89" y="1208.69">−</tspan><tspan class="r" font-size="25.7" x="1609.48" y="1209.2">10.0</tspan></text>
<text ><tspan class="m" font-size="22.74" x="1734.14" y="1208.69">−</tspan><tspan class="r" font-size="25.7" x="1751.14" y="1209.2">9.5</tspan></text>
<text ><tspan class="r" font-size="25.7" x="1036.99" y="751.6">0.20</tspan></text>
<text ><tspan class="r" font-size="25.7" x="1037.05" y="807.05">0.15</tspan></text>
<text ><tspan class="r" font-size="25.7" x="1036.99" y="862.5">0.10</tspan></text>
<text ><tspan class="r" font-size="25.7" x="1037.05" y="917.95">0.05</tspan></text>
<text ><tspan class="r" font-size="25.7" x="1036.99" y="973.4">0.00</tspan></text>
<text ><tspan class="m" font-size="22.74" x="1020.18" y="1028.34">−</tspan><tspan class="r" font-size="25.7" x="1037.05" y="1028.85">0.05</tspan></text>
<text ><tspan class="m" font-size="22.74" x="1020.11" y="1083.79">−</tspan><tspan class="r" font-size="25.7" x="1036.99" y="1084.3">0.10</tspan></text>
<text ><tspan class="m" font-size="22.74" x="1020.18" y="1139.24">−</tspan><tspan class="r" font-size="25.7" x="1037.05" y="1139.75">0.15</tspan></text>
<text ><tspan class="m" font-size="22.74" x="1020.11" y="1194.69">−</tspan><tspan class="r" font-size="25.7" x="1036.99" y="1195.2">0.20</tspan></text>
<rect x="141.05" y="476.25" width="225.95" height="172.05" fill="#fff"/>
<path d="M148.58 648.30V639.70H156.11V648.30ZM163.65 648.30V644.00H171.18V648.30ZM178.71 648.30V631.09H186.24V648.30ZM186.24 648.30V639.70H193.77V648.30ZM193.77 648.30V631.09H201.30V648.30ZM201.30 648.30V596.68H208.84V648.30ZM208.84 648.30V592.38H216.37V648.30ZM216.37 648.30V588.08H223.90V648.30ZM223.90 648.30V579.48H231.43V648.30ZM231.43 648.30V592.38H238.96V648.30ZM238.96 648.30V566.58H246.49V648.30ZM246.49 648.30V596.68H254.03V648.30ZM254.03 648.30V570.88H261.56V648.30ZM261.56 648.30V575.18H269.09V648.30ZM269.09 648.30V596.68H276.62V648.30ZM276.62 648.30V588.08H284.15V648.30ZM284.15 648.30V613.89H291.68V648.30ZM291.68 648.30V622.49H299.22V648.30ZM299.22 648.30V626.79H306.75V648.30ZM306.75 648.30V635.40H314.28V648.30ZM314.28 648.30V635.40H321.81V648.30ZM321.81 648.30V644.00H329.34V648.30ZM336.87 648.30V644.00H344.40V648.30Z" fill="#00008b" fill-opacity="0.7"/>
<path d="M186.24 648.30V644.00H193.77V648.30ZM193.77 648.30V644.00H201.30V648.30ZM201.30 648.30V635.40H208.84V648.30ZM208.84 648.30V639.70H216.37V648.30ZM216.37 648.30V626.79H223.90V648.30ZM223.90 648.30V609.59H231.43V648.30ZM231.43 648.30V588.08H238.96V648.30ZM238.96 648.30V562.27H246.49V648.30ZM246.49 648.30V583.78H254.03V648.30ZM254.03 648.30V575.18H261.56V648.30ZM261.56 648.30V570.88H269.09V648.30ZM269.09 648.30V566.58H276.62V648.30ZM276.62 648.30V549.37H284.15V648.30ZM284.15 648.30V583.78H291.68V648.30ZM291.68 648.30V596.68H299.22V648.30ZM299.22 648.30V605.29H306.75V648.30ZM306.75 648.30V613.89H314.28V648.30ZM314.28 648.30V635.40H321.81V648.30ZM321.81 648.30V639.70H329.34V648.30ZM329.34 648.30V635.40H336.87V648.30Z" fill="#ff0000" fill-opacity="0.7"/>
<rect x="141.05" y="476.25" width="225.95" height="172.05" fill="none" stroke="#000" stroke-width="1.25"/>
<text ><tspan class="m" font-size="14.34" x="125.36" y="665.18">−</tspan><tspan class="r" font-size="16.2" x="135.99" y="665.5">0.5</tspan></text>
<text ><tspan class="m" font-size="14.34" x="200.47" y="665.18">−</tspan><tspan class="r" font-size="16.2" x="211.11" y="665.5">0.4</tspan></text>
<text ><tspan class="m" font-size="14.34" x="275.99" y="665.18">−</tspan><tspan class="r" font-size="16.2" x="286.63" y="665.5">0.3</tspan></text>
<text ><tspan class="m" font-size="14.34" x="351.43" y="665.18">−</tspan><tspan class="r" font-size="16.2" x="362.07" y="665.5">0.2</tspan></text>
<text ><tspan class="m" font-size="16.37" x="248.24" y="501.38">−</tspan><tspan class="r" font-size="18.5" x="260.39" y="501.75">0.307</tspan><tspan class="m" font-size="17.02" x="304.12" y="502.58">±</tspan><tspan class="r" font-size="18.5" x="319.26" y="501.75">0.045</tspan></text>
<text ><tspan class="m" font-size="16.37" x="152.34" y="527.38">−</tspan><tspan class="r" font-size="18.5" x="164.49" y="527.75">0.342</tspan><tspan class="m" font-size="17.02" x="207.71" y="528.58">±</tspan><tspan class="r" font-size="18.5" x="222.85" y="527.75">0.054</tspan></text>
<rect x="671.5" y="476.25" width="226.4" height="172.05" fill="#fff"/>
<path d="M677.16 648.30V644.00H682.82V648.30ZM699.80 648.30V644.00H705.46V648.30ZM716.78 648.30V644.00H722.44V648.30ZM722.44 648.30V639.70H728.10V648.30ZM728.10 648.30V635.40H733.76V648.30ZM733.76 648.30V635.40H739.42V648.30ZM739.42 648.30V626.79H745.08V648.30ZM745.08 648.30V635.40H750.74V648.30ZM750.74 648.30V600.99H756.40V648.30ZM756.40 648.30V592.38H762.06V648.30ZM762.06 648.30V622.49H767.72V648.30ZM767.72 648.30V545.07H773.38V648.30ZM773.38 648.30V588.08H779.04V648.30ZM779.04 648.30V596.68H784.70V648.30ZM784.70 648.30V575.18H790.36V648.30ZM790.36 648.30V600.99H796.02V648.30ZM796.02 648.30V596.68H801.68V648.30ZM801.68 648.30V592.38H807.34V648.30ZM807.34 648.30V605.29H813.00V648.30ZM813.00 648.30V605.29H818.66V648.30ZM818.66 648.30V618.19H824.32V648.30ZM824.32 648.30V605.29H829.98V648.30ZM829.98 648.30V635.40H835.64V648.30ZM835.64 648.30V639.70H841.30V648.30ZM841.30 648.30V639.70H846.96V648.30ZM852.62 648.30V639.70H858.28V648.30ZM858.28 648.30V644.00H863.94V648.30ZM863.94 648.30V644.00H869.60V648.30Z" fill="#00008b" fill-opacity="0.7"/>
<path d="M688.48 648.30V644.00H694.14V648.30ZM699.80 648.30V644.00H705.46V648.30ZM711.12 648.30V639.70H716.78V648.30ZM716.78 648.30V639.70H722.44V648.30ZM722.44 648.30V626.79H728.10V648.30ZM728.10 648.30V631.09H733.76V648.30ZM733.76 648.30V622.49H739.42V648.30ZM739.42 648.30V635.40H745.08V648.30ZM745.08 648.30V605.29H750.74V648.30ZM750.74 648.30V562.27H756.40V648.30ZM756.40 648.30V553.67H762.06V648.30ZM762.06 648.30V566.58H767.72V648.30ZM767.72 648.30V579.48H773.38V648.30ZM773.38 648.30V583.78H779.04V648.30ZM779.04 648.30V566.58H784.70V648.30ZM784.70 648.30V579.48H790.36V648.30ZM790.36 648.30V605.29H796.02V648.30ZM796.02 648.30V609.59H801.68V648.30ZM801.68 648.30V626.79H807.34V648.30ZM807.34 648.30V613.89H813.00V648.30ZM813.00 648.30V631.09H818.66V648.30ZM818.66 648.30V644.00H824.32V648.30ZM829.98 648.30V639.70H835.64V648.30Z" fill="#ff0000" fill-opacity="0.7"/>
<rect x="671.5" y="476.25" width="226.4" height="172.05" fill="none" stroke="#000" stroke-width="1.25"/>
<text ><tspan class="m" font-size="14.34" x="651.88" y="665.18">−</tspan><tspan class="r" font-size="16.2" x="662.52" y="665.5">0.32</tspan></text>
<text ><tspan class="m" font-size="14.34" x="708.15" y="665.18">−</tspan><tspan class="r" font-size="16.2" x="718.79" y="665.5">0.24</tspan></text>
<text ><tspan class="m" font-size="14.34" x="764.88" y="665.18">−</tspan><tspan class="r" font-size="16.2" x="775.51" y="665.5">0.16</tspan></text>
<text ><tspan class="m" font-size="14.34" x="821.54" y="665.18">−</tspan><tspan class="r" font-size="16.2" x="832.17" y="665.5">0.08</tspan></text>
<text ><tspan class="r" font-size="16.2" x="883.73" y="665.5">0.00</tspan></text>
<text ><tspan class="m" font-size="16.37" x="778.83" y="501.38">−</tspan><tspan class="r" font-size="18.5" x="790.98" y="501.75">0.181</tspan><tspan class="m" font-size="17.02" x="834.11" y="502.58">±</tspan><tspan class="r" font-size="18.5" x="849.25" y="501.75">0.034</tspan></text>
<text ><tspan class="m" font-size="16.37" x="682.79" y="527.38">−</tspan><tspan class="r" font-size="18.5" x="694.94" y="527.75">0.159</tspan><tspan class="m" font-size="17.02" x="738.44" y="528.58">±</tspan><tspan class="r" font-size="18.5" x="753.58" y="527.75">0.042</tspan></text>
<rect x="1111.5" y="476.25" width="226.2" height="172.05" fill="#fff"/>
<path d="M1156.74 648.30V631.09H1161.26V648.30ZM1161.26 648.30V639.70H1165.79V648.30ZM1165.79 648.30V644.00H1170.31V648.30ZM1170.31 648.30V639.70H1174.84V648.30ZM1174.84 648.30V626.79H1179.36V648.30ZM1179.36 648.30V626.79H1183.88V648.30ZM1183.88 648.30V613.89H1188.41V648.30ZM1188.41 648.30V600.99H1192.93V648.30ZM1192.93 648.30V575.18H1197.46V648.30ZM1197.46 648.30V570.88H1201.98V648.30ZM1201.98 648.30V588.08H1206.50V648.30ZM1206.50 648.30V562.27H1211.03V648.30ZM1211.03 648.30V588.08H1215.55V648.30ZM1215.55 648.30V583.78H1220.08V648.30ZM1220.08 648.30V596.68H1224.60V648.30ZM1224.60 648.30V596.68H1229.12V648.30ZM1229.12 648.30V579.48H1233.65V648.30ZM1233.65 648.30V618.19H1238.17V648.30ZM1238.17 648.30V622.49H1242.70V648.30ZM1242.70 648.30V635.40H1247.22V648.30ZM1247.22 648.30V639.70H1251.74V648.30ZM1251.74 648.30V644.00H1256.27V648.30ZM1256.27 648.30V635.40H1260.79V648.30ZM1269.84 648.30V644.00H1274.36V648.30ZM1274.36 648.30V644.00H1278.89V648.30Z" fill="#00008b" fill-opacity="0.7"/>
<path d="M1211.03 648.30V644.00H1215.55V648.30ZM1220.08 648.30V639.70H1224.60V648.30ZM1224.60 648.30V626.79H1229.12V648.30ZM1229.12 648.30V635.40H1233.65V648.30ZM1233.65 648.30V622.49H1238.17V648.30ZM1238.17 648.30V600.99H1242.70V648.30ZM1242.70 648.30V613.89H1247.22V648.30ZM1247.22 648.30V562.27H1251.74V648.30ZM1251.74 648.30V583.78H1256.27V648.30ZM1256.27 648.30V566.58H1260.79V648.30ZM1260.79 648.30V592.38H1265.32V648.30ZM1265.32 648.30V553.67H1269.84V648.30ZM1269.84 648.30V566.58H1274.36V648.30ZM1274.36 648.30V562.27H1278.89V648.30ZM1278.89 648.30V605.29H1283.41V648.30ZM1283.41 648.30V613.89H1287.94V648.30ZM1287.94 648.30V626.79H1292.46V648.30ZM1292.46 648.30V618.19H1296.98V648.30ZM1296.98 648.30V631.09H1301.51V648.30ZM1301.51 648.30V644.00H1306.03V648.30ZM1306.03 648.30V644.00H1310.56V648.30Z" fill="#ff0000" fill-opacity="0.7"/>
<rect x="1111.5" y="476.25" width="226.2" height="172.05" fill="none" stroke="#000" stroke-width="1.25"/>
<text ><tspan class="m" font-size="14.34" x="1091.74" y="665.18">−</tspan><tspan class="r" font-size="16.2" x="1102.37" y="665.5">0.40</tspan></text>
<text ><tspan class="m" font-size="14.34" x="1148.31" y="665.18">−</tspan><tspan class="r" font-size="16.2" x="1158.94" y="665.5">0.35</tspan></text>
<text ><tspan class="m" font-size="14.34" x="1204.84" y="665.18">−</tspan><tspan class="r" font-size="16.2" x="1215.47" y="665.5">0.30</tspan></text>
<text ><tspan class="m" font-size="14.34" x="1261.41" y="665.18">−</tspan><tspan class="r" font-size="16.2" x="1272.04" y="665.5">0.25</tspan></text>
<text ><tspan class="m" font-size="14.34" x="1317.94" y="665.18">−</tspan><tspan class="r" font-size="16.2" x="1328.57" y="665.5">0.20</tspan></text>
<text ><tspan class="m" font-size="16.37" x="1218.74" y="501.38">−</tspan><tspan class="r" font-size="18.5" x="1230.89" y="501.75">0.265</tspan><tspan class="m" font-size="17.02" x="1274.39" y="502.58">±</tspan><tspan class="r" font-size="18.5" x="1289.53" y="501.75">0.016</tspan></text>
<text ><tspan class="m" font-size="16.37" x="1122.79" y="527.38">−</tspan><tspan class="r" font-size="18.5" x="1134.94" y="527.75">0.313</tspan><tspan class="m" font-size="17.02" x="1178.44" y="528.58">±</tspan><tspan class="r" font-size="18.5" x="1193.58" y="527.75">0.019</tspan></text>
<rect x="1642.3" y="476.25" width="226.2" height="172.05" fill="#fff"/>
<path d="M1653.61 648.30V642.56H1659.26V648.30ZM1670.58 648.30V642.56H1676.23V648.30ZM1687.54 648.30V631.09H1693.19V648.30ZM1693.19 648.30V636.83H1698.85V648.30ZM1698.85 648.30V619.62H1704.50V648.30ZM1704.50 648.30V619.62H1710.16V648.30ZM1710.16 648.30V631.09H1715.82V648.30ZM1715.82 648.30V631.09H1721.47V648.30ZM1721.47 648.30V590.95H1727.12V648.30ZM1727.12 648.30V596.68H1732.78V648.30ZM1732.78 648.30V642.56H1738.43V648.30ZM1738.43 648.30V608.15H1744.09V648.30ZM1744.09 648.30V602.42H1749.74V648.30ZM1749.74 648.30V579.48H1755.40V648.30ZM1755.40 648.30V573.75H1761.06V648.30ZM1761.06 648.30V585.21H1766.71V648.30ZM1766.71 648.30V596.68H1772.37V648.30ZM1772.37 648.30V596.68H1778.02V648.30ZM1778.02 648.30V562.27H1783.67V648.30ZM1783.67 648.30V596.68H1789.33V648.30ZM1789.33 648.30V579.48H1794.98V648.30ZM1794.98 648.30V585.21H1800.64V648.30ZM1800.64 648.30V568.01H1806.30V648.30ZM1806.30 648.30V619.62H1811.95V648.30ZM1811.95 648.30V625.36H1817.61V648.30ZM1817.61 648.30V613.89H1823.26V648.30ZM1823.26 648.30V636.83H1828.91V648.30ZM1828.91 648.30V631.09H1834.57V648.30ZM1840.22 648.30V631.09H1845.88V648.30ZM1845.88 648.30V642.56H1851.54V648.30ZM1851.54 648.30V636.83H1857.19V648.30Z" fill="#00008b" fill-opacity="0.7"/>
<path d="M1687.54 648.30V642.56H1693.19V648.30ZM1698.85 648.30V636.83H1704.50V648.30ZM1704.50 648.30V642.56H1710.16V648.30ZM1710.16 648.30V636.83H1715.82V648.30ZM1715.82 648.30V625.36H1721.47V648.30ZM1727.12 648.30V642.56H1732.78V648.30ZM1732.78 648.30V613.89H1738.43V648.30ZM1738.43 648.30V625.36H1744.09V648.30ZM1744.09 648.30V568.01H1749.74V648.30ZM1749.74 648.30V590.95H1755.40V648.30ZM1755.40 648.30V556.54H1761.06V648.30ZM1761.06 648.30V596.68H1766.71V648.30ZM1766.71 648.30V573.75H1772.37V648.30ZM1772.37 648.30V573.75H1778.02V648.30ZM1778.02 648.30V556.54H1783.67V648.30ZM1783.67 648.30V608.15H1789.33V648.30ZM1789.33 648.30V590.95H1794.98V648.30ZM1794.98 648.30V562.27H1800.64V648.30ZM1800.64 648.30V608.15H1806.30V648.30ZM1806.30 648.30V573.75H1811.95V648.30ZM1811.95 648.30V585.21H1817.61V648.30ZM1817.61 648.30V613.89H1823.26V648.30ZM1823.26 648.30V602.42H1828.91V648.30ZM1828.91 648.30V631.09H1834.57V648.30ZM1834.57 648.30V625.36H1840.22V648.30ZM1840.22 648.30V636.83H1845.88V648.30ZM1845.88 648.30V642.56H1851.54V648.30ZM1851.54 648.30V642.56H1857.19V648.30Z" fill="#ff0000" fill-opacity="0.7"/>
<rect x="1642.3" y="476.25" width="226.2" height="172.05" fill="none" stroke="#000" stroke-width="1.25"/>
<text ><tspan class="m" font-size="14.34" x="1622.54" y="665.18">−</tspan><tspan class="r" font-size="16.2" x="1633.17" y="665.5">0.20</tspan></text>
<text ><tspan class="m" font-size="14.34" x="1678.86" y="665.18">−</tspan><tspan class="r" font-size="16.2" x="1689.5" y="665.5">0.18</tspan></text>
<text ><tspan class="m" font-size="14.34" x="1735.66" y="665.18">−</tspan><tspan class="r" font-size="16.2" x="1746.29" y="665.5">0.15</tspan></text>
<text ><tspan class="m" font-size="14.34" x="1792.55" y="665.18">−</tspan><tspan class="r" font-size="16.2" x="1803.19" y="665.5">0.12</tspan></text>
<text ><tspan class="m" font-size="14.34" x="1848.74" y="665.18">−</tspan><tspan class="r" font-size="16.2" x="1859.37" y="665.5">0.10</tspan></text>
<text ><tspan class="m" font-size="16.37" x="1749.26" y="501.38">−</tspan><tspan class="r" font-size="18.5" x="1761.41" y="501.75">0.139</tspan><tspan class="m" font-size="17.02" x="1804.91" y="502.58">±</tspan><tspan class="r" font-size="18.5" x="1820.05" y="501.75">0.014</tspan></text>
<text ><tspan class="m" font-size="16.37" x="1653.59" y="527.38">−</tspan><tspan class="r" font-size="18.5" x="1665.74" y="527.75">0.144</tspan><tspan class="m" font-size="17.02" x="1709.7" y="528.58">±</tspan><tspan class="r" font-size="18.5" x="1724.84" y="527.75">0.017</tspan></text>
<rect x="132" y="75.7" width="411.8" height="99.4" rx="5" ry="5" fill="#fff" fill-opacity="0.8" stroke="#000" stroke-opacity="0.09" stroke-width="1.2"/>
<circle cx="176.7" cy="101.9" r="2.7" fill="#ff0000"/><circle cx="176.7" cy="147.8" r="2.7" fill="#00008b"/>
<text ><tspan class="r" font-size="32.3" x="233.89" y="110.3">observed ensemble</tspan></text>
<text ><tspan class="r" font-size="32.3" x="233.97" y="155.9">deep MOND ensemble</tspan></text>
<rect x="887.2" y="757" width="22.4" height="21.7" rx="5" ry="5" fill="#fff" fill-opacity="0.8" stroke="#000" stroke-opacity="0.09" stroke-width="1.2"/>
<text><tspan class="i" font-size="56.7" x="633" y="128.2">d</tspan><tspan class="i" font-size="37.8" x="661.77" y="134.8">M</tspan><tspan stroke="#000" stroke-width="0.8"><tspan class="r" font-size="63" x="704.45" y="134.2">&lt;</tspan></tspan><tspan class="r" font-size="56.7" x="750.47" y="128.2">80</tspan><tspan class="r" font-size="56.7" x="818.05" y="128.2">pc</tspan></text>
<text><tspan class="i" font-size="56.7" x="1575.3" y="128.2">d</tspan><tspan class="i" font-size="37.8" x="1604.27" y="134.8">M</tspan><tspan stroke="#000" stroke-width="0.8"><tspan class="r" font-size="63" x="1647.65" y="134.2">&lt;</tspan></tspan><tspan class="r" font-size="56.7" x="1690.89" y="128.2">200</tspan><tspan class="r" font-size="56.7" x="1788.15" y="128.2">pc</tspan></text>
<text><tspan class="i" font-size="31.5" x="720.58" y="178.3">f</tspan><tspan class="r" font-size="22" x="735.46" y="182.3">multi</tspan><tspan class="m" font-size="30.4" x="787.07" y="178.6">=</tspan><tspan class="r" font-size="31.5" x="815.13" y="178.3">0.43</tspan></text>
<text ><tspan class="r" font-size="31.5" x="1785.63" y="178.3">0.65</tspan></text>
<text><tspan class="r" font-size="50.4" x="595.94" y="37.9">deep MOND with</tspan><tspan class="i" font-size="50.4" x="973.43" y="37.9">G</tspan><tspan class="i" font-size="60" x="1006.4" y="41.3">′</tspan><tspan class="m" font-size="48.6" x="1030.21" y="38.8">=</tspan><tspan class="r" font-size="50.4" x="1073.99" y="37.9">1.37</tspan><tspan class="i" font-size="50.4" x="1162.03" y="37.9">G</tspan><tspan class="r" font-size="50.4" x="1211.67" y="37.9">:</tspan><tspan class="r" font-size="50.4" x="1237.51" y="37.9">clean samples</tspan></text>
<text><tspan class="i" font-size="45" x="501.16" y="1248.2">x</tspan><tspan class="r" font-size="32.62" x="521.78" y="1253.7">0</tspan></text>
<text><tspan class="i" font-size="45" x="1472.16" y="1248.2">x</tspan><tspan class="r" font-size="32.62" x="1492.78" y="1253.7">0</tspan></text>
<g transform="translate(35.8 408.1) rotate(-90)"><text class="m" font-size="50.5" transform="translate(-3.19 1.9) scale(0.79 1)" x="0" y="0">⟨</text><text><tspan class="r" font-size="46.6" x="14.95" y="0">Δ</tspan><tspan class="m" font-size="30" x="47.1" y="6">⊥</tspan></text><text class="m" font-size="50.5" transform="translate(73.41 1.9) scale(0.79 1)" x="0" y="0">⟩</text></g>
<g transform="translate(37 1049.7) rotate(-90)"><text><tspan class="i" font-size="44.5" x="-1.33" y="0">δ</tspan><tspan class="r" font-size="32.6" x="20.48" y="6.5">obs</tspan><tspan class="m" font-size="29" x="69.58" y="6">−</tspan><tspan class="r" font-size="32.6" x="96.25" y="6.5">mond</tspan></text></g>
</svg>
</body></html>
